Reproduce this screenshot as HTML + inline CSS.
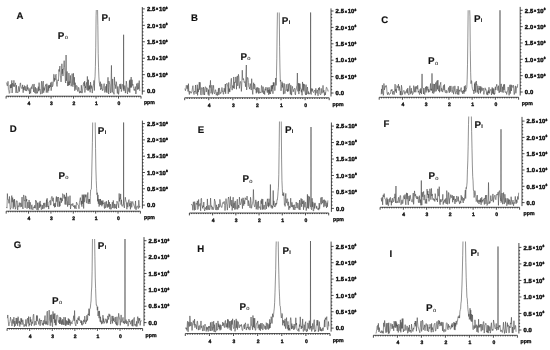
<!DOCTYPE html>
<html><head><meta charset="utf-8"><style>
html,body{margin:0;padding:0;background:#fff;}
svg{display:block;}
svg text{font-family:"Liberation Sans", Arial, sans-serif;}
</style></head><body>
<svg width="550" height="350" viewBox="0 0 550 350" text-rendering="geometricPrecision">
<rect width="550" height="350" fill="#fff"/>
<clipPath id="cA"><rect x="4.1" y="10" width="117.5" height="86.2"/><rect x="121.6" y="34.8" width="21.4" height="61.4"/></clipPath>
<polyline clip-path="url(#cA)" points="6.3,82.52 6.63,82.88 7.15,85.73 7.64,85.63 8,81.32 8.42,89.48 8.84,90.54 9.3,93.38 9.8,92.89 10.12,84.96 10.43,88.14 10.94,84.09 11.34,87.94 11.83,80.35 12.14,92.98 12.55,83.13 13.03,84.28 13.38,86.62 13.92,80.34 14.45,86.66 14.75,84.8 15.06,84.42 15.5,82.89 16.03,92.95 16.43,85.22 16.78,89.95 17.18,92.44 17.49,92.56 17.85,92.98 18.26,91.53 18.68,86.38 19.04,87.55 19.4,91.59 19.75,87.76 20.17,83.68 20.54,82.87 20.84,86.03 21.35,88.1 21.79,88.49 22.25,88.52 22.6,84.86 23.15,92.73 23.66,87.05 23.99,90.03 24.38,85.53 24.86,88.69 25.33,90.8 25.87,86.28 26.27,89.48 26.78,91.11 27.25,84.7 27.63,89.46 28.07,87.43 28.59,90.43 29.1,89.85 29.53,94.03 29.98,88.3 30.29,92.15 30.65,93.3 31.15,87.2 31.55,86.68 31.89,88.82 32.33,84.68 32.81,84.4 33.28,87.7 33.67,91.98 34.08,83.95 34.51,91.4 35,93.06 35.43,87.19 35.83,93.68 36.25,93.38 36.56,91.76 36.87,88.31 37.35,93.29 37.89,91.11 38.34,86.65 38.74,91.13 39.08,82.63 39.51,90.17 40.05,89.33 40.54,94.21 40.98,93.73 41.49,81.21 41.85,81.83 42.28,93.57 42.82,84.28 43.26,81.05 43.68,92.73 44.05,87.61 44.48,90.41 45.02,86.51 45.32,86.05 45.82,84.38 46.32,92.58 46.85,83.71 47.33,89.05 47.83,92.63 48.26,85.47 48.7,90.82 49.11,84.88 49.42,88.12 49.94,85.19 50.38,86.86 50.73,82.6 51.16,90.66 51.58,85.8 51.97,81.79 52.36,86.81 52.79,86.14 53.25,83.49 53.7,74.36 54.11,74.44 54.42,81.5 54.78,78.02 55.12,80.08 55.57,75.29 56.08,74.23 56.58,84.49 57.08,86.44 57.59,81.42 57.95,79.8 58.46,80.77 58.93,69.44 59.25,71.52 59.56,69.04 59.86,66.05 60.35,75.96 60.71,78.02 61.04,81.92 61.49,75.71 61.88,63.77 62.2,73.73 62.54,69 62.97,76.05 63.31,70.55 63.68,67.29 64.16,60.67 64.57,67.47 64.95,71.64 65.37,81.32 65.68,83.03 66.07,55 66.48,80.77 66.82,74.96 67.15,71.48 67.68,86.02 68.1,81.71 68.46,85.48 68.91,73.06 69.41,85.15 69.72,81.54 70.02,82.72 70.36,75.43 70.84,84.11 71.18,86.24 71.65,84.06 72.12,73.66 72.56,83.81 72.92,86.71 73.46,73.25 73.96,84.74 74.39,77.21 74.74,90.8 75.21,82.7 75.6,87.87 76.05,89.77 76.43,85.6 76.89,85.56 77.2,86.03 77.58,91.21 78.12,91.58 78.64,87.27 79.01,88.14 79.53,93.17 79.91,91.63 80.44,90.97 80.93,92.97 81.33,85.21 81.69,90.36 82,93.18 82.52,90.82 82.82,88.12 83.33,84.29 83.87,82.38 84.31,85.91 84.66,81.13 84.9,92.53 85.25,86.26 85.6,87.94 85.95,84.81 86.3,83.54 86.65,82.38 87,89.84 87.35,76.4 87.7,87.76 88.05,90.92 88.4,79.72 88.75,90.1 89.1,86.31 89.45,89.12 89.8,85.32 90.15,92.32 90.5,82.09 90.85,85.16 91.2,88.55 91.55,85.66 91.9,87.39 92.25,93.1 92.6,88.8 92.95,86.99 93.3,85.15 93.65,83.42 94,80.39 94.35,90.56 94.7,80.76 95.05,76.67 95.4,66.53 95.75,47.68 96.1,15.65 96.45,6 96.8,6 97.15,6 97.5,6 97.85,25.5 98.2,53.42 98.55,67.8 98.9,76.89 99.25,82.39 99.6,84.14 99.95,86.41 100.3,81.68 100.65,89.86 101,88.41 101.35,88.88 101.7,83.8 102.05,86.76 102.4,90.68 102.75,89.78 103.1,90.18 103.45,86.4 103.8,85.45 104.15,83.61 104.5,87.97 104.85,92.5 105.2,90.05 105.55,88.61 105.9,86.22 106.25,91.73 106.6,84.11 106.95,92.93 107.3,84.29 107.65,83.52 108,77.31 108.35,87.7 108.7,94.01 108.93,81.06 109.31,82.36 109.77,84.44 110.26,91.53 110.66,93.06 111.1,79.61 111.45,65.4 111.77,86.5 112.14,92.35 112.66,78.92 113.1,92.62 113.64,92.62 114.05,94.32 114.42,76.96 114.92,85.09 115.42,84.99 115.73,88.66 116.19,81.63 116.52,82.79 116.85,87.23 117.37,93.47 117.68,86.68 118.04,86.36 118.58,94.38 118.99,91.81 119.32,88.73 119.66,84.13 120.02,84.69 120.51,88.89 120.83,83.77 121.36,91.61 121.75,89.86 122.3,84.36 122.82,84.79 123.5,89.46 123.6,31.8 123.7,91.1 124.31,90.45 124.77,85.55 125.08,88.38 125.38,93.11 125.93,87.01 126.3,81.14 126.75,84.5 127.16,92.46 127.54,93.9 127.86,87.65 128.38,88.3 128.93,91.65 129.47,80.5 129.8,92.6 130.15,79.6 130.61,87.58 131.15,77.04 131.59,87.44 132.06,79.75 132.52,85.4 132.89,84.21 133.32,86.59 133.7,88.14 134.06,90.3 134.38,89.51 134.75,90.53 135.3,86.57 135.71,94 136.17,93.4 136.63,83.68 137.17,85.86 137.57,89.63 137.94,82.86 138.33,86.26 138.7,89.25 139.22,80.58 139.74,91.03" fill="none" stroke="#484848" stroke-width="0.6" stroke-linejoin="round"/>
<path d="M6.1 96.2H141M6.1 96.2v2.4M8.35 96.2v1.1M10.6 96.2v1.1M12.84 96.2v1.1M15.09 96.2v1.1M17.34 96.2v1.1M19.59 96.2v1.1M21.84 96.2v1.1M24.09 96.2v1.1M26.34 96.2v1.1M28.58 96.2v2.4M30.83 96.2v1.1M33.08 96.2v1.1M35.33 96.2v1.1M37.58 96.2v1.1M39.83 96.2v1.1M42.07 96.2v1.1M44.32 96.2v1.1M46.57 96.2v1.1M48.82 96.2v1.1M51.07 96.2v2.4M53.32 96.2v1.1M55.56 96.2v1.1M57.81 96.2v1.1M60.06 96.2v1.1M62.31 96.2v1.1M64.56 96.2v1.1M66.81 96.2v1.1M69.05 96.2v1.1M71.3 96.2v1.1M73.55 96.2v2.4M75.8 96.2v1.1M78.05 96.2v1.1M80.3 96.2v1.1M82.54 96.2v1.1M84.79 96.2v1.1M87.04 96.2v1.1M89.29 96.2v1.1M91.54 96.2v1.1M93.79 96.2v1.1M96.03 96.2v2.4M98.28 96.2v1.1M100.53 96.2v1.1M102.78 96.2v1.1M105.03 96.2v1.1M107.28 96.2v1.1M109.52 96.2v1.1M111.77 96.2v1.1M114.02 96.2v1.1M116.27 96.2v1.1M118.52 96.2v2.4M120.77 96.2v1.1M123.01 96.2v1.1M125.26 96.2v1.1M127.51 96.2v1.1M129.76 96.2v1.1M132.01 96.2v1.1M134.25 96.2v1.1M136.5 96.2v1.1M138.75 96.2v1.1M141 96.2v2.4M142.3 7V94.6M142.3 91.1h2.5M142.3 87.81h1.2M142.3 84.52h1.2M142.3 81.24h1.2M142.3 77.95h1.2M142.3 74.66h2.5M142.3 71.37h1.2M142.3 68.08h1.2M142.3 64.8h1.2M142.3 61.51h1.2M142.3 58.22h2.5M142.3 54.93h1.2M142.3 51.64h1.2M142.3 48.36h1.2M142.3 45.07h1.2M142.3 41.78h2.5M142.3 38.49h1.2M142.3 35.2h1.2M142.3 31.92h1.2M142.3 28.63h1.2M142.3 25.34h2.5M142.3 22.05h1.2M142.3 18.76h1.2M142.3 15.48h1.2M142.3 12.19h1.2M142.3 8.9h2.5" stroke="#1a1a1a" stroke-width="0.8" fill="none"/>
<g font-size="5" font-weight="bold" text-anchor="middle" fill="#111" stroke="#111" stroke-width="0.35"><text x="28.98" y="105.3">4</text><text x="51.47" y="105.3">3</text><text x="73.95" y="105.3">2</text><text x="96.43" y="105.3">1</text><text x="118.92" y="105.3">0</text></g>
<text x="143.9" y="104.3" font-size="5.2" font-weight="bold" fill="#111" stroke="#111" stroke-width="0.3">ppm</text>
<g font-size="5.9" letter-spacing="0.1" font-weight="bold" fill="#111" stroke="#111" stroke-width="0.42"><text x="146.9" y="93.3">0.0</text><text x="146.9" y="76.86">0.5<tspan font-size="3.8" dx="0.7" dy="-0.7">&#215;</tspan><tspan dx="0.6" dy="0.7">10</tspan><tspan font-size="3.2" dy="-2.3">8</tspan></text><text x="146.9" y="60.42">1.0<tspan font-size="3.8" dx="0.7" dy="-0.7">&#215;</tspan><tspan dx="0.6" dy="0.7">10</tspan><tspan font-size="3.2" dy="-2.3">8</tspan></text><text x="146.9" y="43.98">1.5<tspan font-size="3.8" dx="0.7" dy="-0.7">&#215;</tspan><tspan dx="0.6" dy="0.7">10</tspan><tspan font-size="3.2" dy="-2.3">8</tspan></text><text x="146.9" y="27.54">2.0<tspan font-size="3.8" dx="0.7" dy="-0.7">&#215;</tspan><tspan dx="0.6" dy="0.7">10</tspan><tspan font-size="3.2" dy="-2.3">8</tspan></text><text x="146.9" y="11.1">2.5<tspan font-size="3.8" dx="0.7" dy="-0.7">&#215;</tspan><tspan dx="0.6" dy="0.7">10</tspan><tspan font-size="3.2" dy="-2.3">8</tspan></text></g>
<text x="16.5" y="18.8" font-size="9.6" font-weight="bold" fill="#111" stroke="#111" stroke-width="0.15">A</text>
<text x="101.6" y="21.3" font-size="9.8" font-weight="bold" fill="#111" stroke="#111" stroke-width="0.12">P<tspan font-size="5.5" dx="0.3">i</tspan></text>
<text x="57.8" y="38.5" font-size="9.8" font-weight="bold" fill="#111" stroke="#111" stroke-width="0.12">P<tspan font-size="5.8" font-weight="normal" stroke-width="0.05" dx="0.4" dy="0.5">o</tspan></text>
<clipPath id="cB"><rect x="182.7" y="12.4" width="125.9" height="85.4"/><rect x="308.6" y="12.4" width="22.6" height="85.4"/></clipPath>
<polyline clip-path="url(#cB)" points="184.9,88.51 185.44,90.7 185.98,88.47 186.29,85.31 186.61,86.2 187.12,88.77 187.6,85.32 188.07,91.49 188.45,83.68 188.9,91.99 189.35,94.51 189.8,91.02 190.14,92.22 190.54,91.81 190.94,93.32 191.42,93.06 191.97,91.22 192.51,87.68 192.95,85.69 193.36,91.63 193.72,93.46 194.03,94.52 194.34,91.8 194.76,90.99 195.14,92.23 195.53,85.02 196.05,93.82 196.48,92.82 196.93,92.82 197.28,84.74 197.59,95.36 197.97,88.65 198.31,92.07 198.73,88.54 199.28,82.12 199.75,89.78 200.1,82.31 200.62,94.08 201.12,95.09 201.6,87.79 202.13,87.41 202.62,89.28 203.12,94.75 203.51,87.05 204.05,90.42 204.59,95 204.93,88.71 205.42,86.72 205.9,87.69 206.31,92.07 206.75,87.87 207.17,88.96 207.7,89.32 208.13,94.59 208.63,89.64 209.02,95.61 209.54,85.43 210.07,87.57 210.48,80.36 210.93,93.33 211.46,91.38 211.94,85.12 212.36,94.37 212.71,91.82 213.09,88.27 213.57,85.32 213.91,92.27 214.44,93.83 214.81,92.61 215.33,89.71 215.71,89.93 216.25,95.22 216.73,93.48 217.15,92.08 217.58,95.57 218.04,93 218.49,88.3 218.87,94.93 219.22,87.92 219.65,89.73 220.18,93.78 220.64,92.7 220.96,93.19 221.46,91.55 221.94,87.54 222.47,91.47 222.82,90.89 223.31,94.29 223.62,94.15 224.08,88.2 224.45,88.9 224.81,91.85 225.33,84 225.65,93.76 226.08,83.95 226.6,83.93 226.96,83.3 227.31,84.09 227.83,87.28 228.24,93.81 228.72,82.44 229.02,91.49 229.42,88.66 229.76,92.09 230.23,88.82 230.55,86.74 231.09,79.7 231.39,78.3 231.87,87.79 232.18,90.15 232.54,85.68 233.05,85.97 233.39,88.04 233.73,76.96 234.21,88.78 234.6,81.93 234.91,82.55 235.46,82.4 235.8,76.94 236.11,79.4 236.49,89.24 236.95,76.86 237.43,75.92 237.76,85.92 238.14,82 238.45,74.34 238.86,77.11 239.36,88.42 239.84,84.32 240.37,81.54 240.86,81.68 241.37,91.42 241.85,82.91 242.27,70.21 242.62,78.2 243.09,79.83 243.47,78.54 243.79,80.28 244.2,82.5 244.72,82.21 245.05,81.63 245.5,86.74 245.9,76.86 246.33,65 246.66,89.93 247.2,80.31 247.57,77.39 248.02,77.94 248.42,82.38 248.73,86.66 249.17,86.96 249.5,89.11 249.82,87.03 250.13,83.53 250.47,83.96 250.79,88.26 251.25,89.98 251.68,78.71 252.22,89.69 252.76,94.39 253.3,86.4 253.66,82.76 254.07,89.13 254.44,84.06 254.88,84.89 255.34,89.53 255.84,89.12 256.32,93.32 256.68,87.56 257.09,92.37 257.52,87.97 257.82,87.27 258.13,89.36 258.53,93.51 258.86,88.03 259.34,90.74 259.7,93.28 260.03,92.34 260.37,92.18 260.73,92.84 261.08,92.38 261.51,85.47 261.93,86.46 262.31,92.59 262.77,89.98 263.12,86.73 263.65,93.91 264.19,90.74 264.67,94.57 265.08,88.74 265.51,90.33 265.95,87.09 266.26,88.88 266.3,88.92 266.65,89.67 267,91.31 267.35,92.69 267.7,87.55 268.05,91.52 268.4,90.13 268.75,94.82 269.1,87.25 269.45,93.61 269.8,89.57 270.15,92.99 270.5,94.02 270.85,89.31 271.2,85.58 271.55,91.35 271.9,85.44 272.25,88.85 272.6,85.1 272.95,93.73 273.3,82.42 273.65,86.16 274,82.47 274.35,86.09 274.7,90.54 275.05,90.54 275.4,83.13 275.75,78 276.1,85.38 276.45,76.68 276.8,58.76 277.15,29.96 277.5,8.4 277.85,8.4 278.2,8.4 278.55,8.4 278.9,8.4 279.25,13.28 279.6,46.59 279.95,67.91 280.3,81.34 280.65,79.99 281,90.83 281.35,86.76 281.7,84.64 282.05,81.71 282.4,87.48 282.75,83.26 283.1,85.72 283.45,94.2 283.8,88.2 284.15,83.38 284.5,84.15 284.85,93.67 285.2,91.22 285.55,90.74 285.9,89.05 286.25,84.3 286.6,85.25 286.95,90.82 287.3,89.25 287.65,91.83 288,83.87 288.35,85.15 288.7,91.2 289.05,85.65 289.4,83.34 289.75,84.9 290.1,89.69 290.33,94.4 290.84,85.2 291.21,90.72 291.57,95.14 291.99,89.23 292.36,86.33 292.76,88.63 293.23,91.83 293.76,89.33 294.21,88.96 294.72,88.24 295.04,93.66 295.43,94.85 295.98,88.98 296.31,89.17 296.72,85.85 297.04,85.25 297.36,73 297.88,91.35 298.43,83.11 298.89,94.09 299.22,83.51 299.6,90.92 299.95,83.63 300.42,88.36 300.89,88.24 301.3,92.28 301.73,89.51 302.06,95.28 302.5,81.95 303.03,89.92 303.52,83.84 303.85,91.39 304.28,84.22 304.75,86.07 305.12,92.84 305.64,94.86 306.06,84.62 306.53,94.79 306.93,91.9 307.48,87.05 307.98,93.87 308.42,91.5 308.76,94.2 309.17,93.5 309.48,94.11 309.92,93.42 310.5,91.36 310.6,9.4 310.7,93 311.22,94.52 311.64,88.44 312.04,91.27 312.52,88.8 313.05,91.9 313.53,92.58 313.95,91.32 314.49,90.8 314.87,90.08 315.36,95.22 315.82,88.35 316.31,92.69 316.82,93.29 317.18,89.86 317.64,91.15 318.04,95.74 318.5,87.95 319.05,90.21 319.51,87.37 319.81,93.9 320.22,94.34 320.7,94.91 321.22,88.36 321.69,93.28 322.19,93.2 322.49,92.64 323.03,85.39 323.51,92.35 323.96,90.24 324.49,95.51 325.01,92.35 325.34,95 325.84,91.7 326.33,87.37 326.68,87.33 327.17,88.58 327.61,89.27 327.96,91.25 328.46,91.05" fill="none" stroke="#484848" stroke-width="0.6" stroke-linejoin="round"/>
<path d="M184.7 97.8H329.2M184.7 97.8v2.4M187.11 97.8v1.1M189.52 97.8v1.1M191.92 97.8v1.1M194.33 97.8v1.1M196.74 97.8v1.1M199.15 97.8v1.1M201.56 97.8v1.1M203.97 97.8v1.1M206.38 97.8v1.1M208.78 97.8v2.4M211.19 97.8v1.1M213.6 97.8v1.1M216.01 97.8v1.1M218.42 97.8v1.1M220.82 97.8v1.1M223.23 97.8v1.1M225.64 97.8v1.1M228.05 97.8v1.1M230.46 97.8v1.1M232.87 97.8v2.4M235.27 97.8v1.1M237.68 97.8v1.1M240.09 97.8v1.1M242.5 97.8v1.1M244.91 97.8v1.1M247.32 97.8v1.1M249.72 97.8v1.1M252.13 97.8v1.1M254.54 97.8v1.1M256.95 97.8v2.4M259.36 97.8v1.1M261.77 97.8v1.1M264.18 97.8v1.1M266.58 97.8v1.1M268.99 97.8v1.1M271.4 97.8v1.1M273.81 97.8v1.1M276.22 97.8v1.1M278.62 97.8v1.1M281.03 97.8v2.4M283.44 97.8v1.1M285.85 97.8v1.1M288.26 97.8v1.1M290.67 97.8v1.1M293.07 97.8v1.1M295.48 97.8v1.1M297.89 97.8v1.1M300.3 97.8v1.1M302.71 97.8v1.1M305.12 97.8v2.4M307.52 97.8v1.1M309.93 97.8v1.1M312.34 97.8v1.1M314.75 97.8v1.1M317.16 97.8v1.1M319.57 97.8v1.1M321.98 97.8v1.1M324.38 97.8v1.1M326.79 97.8v1.1M329.2 97.8v2.4M331 8.4V96.5M331 93h2.5M331 89.72h1.2M331 86.44h1.2M331 83.16h1.2M331 79.88h1.2M331 76.6h2.5M331 73.32h1.2M331 70.04h1.2M331 66.76h1.2M331 63.48h1.2M331 60.2h2.5M331 56.92h1.2M331 53.64h1.2M331 50.36h1.2M331 47.08h1.2M331 43.8h2.5M331 40.52h1.2M331 37.24h1.2M331 33.96h1.2M331 30.68h1.2M331 27.4h2.5M331 24.12h1.2M331 20.84h1.2M331 17.56h1.2M331 14.28h1.2M331 11h2.5" stroke="#1a1a1a" stroke-width="0.8" fill="none"/>
<g font-size="5" font-weight="bold" text-anchor="middle" fill="#111" stroke="#111" stroke-width="0.35"><text x="209.18" y="106.9">4</text><text x="233.27" y="106.9">3</text><text x="257.35" y="106.9">2</text><text x="281.43" y="106.9">1</text><text x="305.52" y="106.9">0</text></g>
<text x="332.6" y="105.9" font-size="5.2" font-weight="bold" fill="#111" stroke="#111" stroke-width="0.3">ppm</text>
<g font-size="5.9" letter-spacing="0.1" font-weight="bold" fill="#111" stroke="#111" stroke-width="0.42"><text x="335.6" y="95.2">0.0</text><text x="335.6" y="78.8">0.5<tspan font-size="3.8" dx="0.7" dy="-0.7">&#215;</tspan><tspan dx="0.6" dy="0.7">10</tspan><tspan font-size="3.2" dy="-2.3">8</tspan></text><text x="335.6" y="62.4">1.0<tspan font-size="3.8" dx="0.7" dy="-0.7">&#215;</tspan><tspan dx="0.6" dy="0.7">10</tspan><tspan font-size="3.2" dy="-2.3">8</tspan></text><text x="335.6" y="46">1.5<tspan font-size="3.8" dx="0.7" dy="-0.7">&#215;</tspan><tspan dx="0.6" dy="0.7">10</tspan><tspan font-size="3.2" dy="-2.3">8</tspan></text><text x="335.6" y="29.6">2.0<tspan font-size="3.8" dx="0.7" dy="-0.7">&#215;</tspan><tspan dx="0.6" dy="0.7">10</tspan><tspan font-size="3.2" dy="-2.3">8</tspan></text><text x="335.6" y="13.2">2.5<tspan font-size="3.8" dx="0.7" dy="-0.7">&#215;</tspan><tspan dx="0.6" dy="0.7">10</tspan><tspan font-size="3.2" dy="-2.3">8</tspan></text></g>
<text x="191" y="20.6" font-size="9.6" font-weight="bold" fill="#111" stroke="#111" stroke-width="0.15">B</text>
<text x="281.8" y="24.1" font-size="9.8" font-weight="bold" fill="#111" stroke="#111" stroke-width="0.12">P<tspan font-size="5.5" dx="0.3">i</tspan></text>
<text x="240.4" y="59.5" font-size="9.8" font-weight="bold" fill="#111" stroke="#111" stroke-width="0.12">P<tspan font-size="5.8" font-weight="normal" stroke-width="0.05" dx="0.4" dy="0.5">o</tspan></text>
<clipPath id="cC"><rect x="377.2" y="10.3" width="120.8" height="87"/><rect x="498" y="10.3" width="22.6" height="87"/></clipPath>
<polyline clip-path="url(#cC)" points="381.2,94.39 381.56,88.95 382,93.8 382.39,85.18 382.84,90.91 383.3,95.35 383.61,93.9 383.92,83.48 384.42,89.91 384.79,87.87 385.15,86.36 385.7,87.19 386.11,85.27 386.62,87.22 387.04,92.62 387.5,94.73 387.84,93.09 388.3,92.16 388.82,94.44 389.25,94.79 389.73,93.94 390.2,93.14 390.52,93.46 391.01,89.84 391.45,90.78 391.83,89.21 392.14,89.68 392.65,94.37 393.07,92.25 393.55,91.16 394.07,94.69 394.55,92.27 395.08,84.17 395.48,91.34 395.98,89.03 396.39,92.86 396.92,85.61 397.44,86.25 397.77,87.69 398.1,87.86 398.46,84.13 399,90.57 399.41,86.44 399.86,89.64 400.24,94.89 400.66,91.01 401.06,95.28 401.45,85.23 401.89,88.05 402.34,94.68 402.87,92.7 403.34,91.4 403.87,90.32 404.38,91.88 404.93,94.35 405.4,91.63 405.74,92.34 406.26,92.46 406.8,89.43 407.32,93.27 407.76,88.05 408.24,93.59 408.6,94.7 409.1,94.75 409.55,88.48 409.92,85.7 410.23,90.72 410.75,94.21 411.3,88.16 411.62,92.63 412.12,91.47 412.52,94.61 412.86,93.56 413.23,93.37 413.72,85.63 414.24,89.33 414.55,92.22 415.01,87.77 415.32,86.75 415.8,92.28 416.18,86.17 416.7,88 417.25,89.18 417.67,85.27 418.22,92.33 418.6,90.94 418.92,92 419.37,94.03 419.68,94.62 420.03,89.33 420.43,92.97 420.88,88.31 421.22,90.77 421.53,94.08 422.05,73.9 422.42,88 422.96,88.33 423.49,93.99 423.88,87.98 424.3,93.77 424.73,94.59 425.19,90.31 425.64,86.84 426.08,92.45 426.53,86.28 427.07,90.53 427.5,86.93 427.9,86.63 428.38,92.43 428.74,89.21 429.12,91.43 429.66,92.1 430.09,89.45 430.53,83.51 430.83,90.28 431.24,88.84 431.68,90.61 431.99,73.4 432.44,93.19 432.9,90.19 433.21,83.83 433.67,93.56 434.09,92.7 434.56,84 434.94,91.67 435.42,84.02 435.91,82.48 436.21,91.25 436.53,84.53 437,80.74 437.54,89.32 437.9,80.05 438.31,89.49 438.76,91.08 439.14,85.61 439.53,92.27 439.91,85.58 440.3,84.42 440.75,82.28 441.13,91.35 441.52,88.25 442.01,88.6 442.32,91.21 442.76,92.12 443.25,86.71 443.62,85.36 443.98,90.18 444.48,84.42 444.84,91.12 445.19,92.51 445.6,92.65 446.07,89.99 446.4,90.88 446.78,93.17 447.16,92.33 447.67,91.52 448.08,90.74 448.59,87.53 448.93,90.81 449.32,92.88 449.78,85.94 450.3,91.78 450.72,86.15 451.07,85.91 451.4,89.35 451.83,91.26 452.18,92.58 452.68,89.31 453.19,86.39 453.54,94.19 453.91,92.17 454.41,91.06 454.87,85.85 455.37,91.42 455.76,94.16 456.09,93.59 456.46,91.01 456.96,91.14 457,88.92 457.35,92.3 457.7,94.46 458.05,86.13 458.4,86.95 458.75,94.69 459.1,90.67 459.45,89.85 459.8,91.28 460.15,91.58 460.5,89.4 460.85,88.81 461.2,87.58 461.55,91.11 461.9,92.37 462.25,91.04 462.6,93.82 462.95,92.84 463.3,90 463.65,91.76 464,93.71 464.35,86.3 464.7,92.11 465.05,86.53 465.4,85.46 465.75,91.26 466.1,89.45 466.45,89.15 466.8,87.23 467.15,79.71 467.5,64.79 467.85,37.94 468.2,6.3 468.55,6.3 468.9,6.3 469.25,6.3 469.6,6.3 469.95,16.76 470.3,50.3 470.65,72.27 471,83.7 471.35,80.56 471.7,81.01 472.05,86.39 472.4,88.74 472.75,89.85 473.1,90.64 473.45,89.96 473.8,93.88 474.15,93.21 474.5,83.63 474.85,90.98 475.2,82.19 475.55,92.51 475.9,92.22 476.25,80.97 476.6,85.05 476.95,84.67 477.3,92.52 477.65,89.37 478,85.79 478.35,93.86 478.7,93.05 479.05,88.23 479.4,89.86 479.75,86.15 480.1,87.79 480.45,93.33 480.8,86.37 481.04,91.6 481.54,89.27 481.84,87.46 482.3,90.52 482.82,90.21 483.13,88 483.5,91.33 483.86,94.42 484.3,91.59 484.7,91.39 485.12,87.81 485.61,89.94 485.91,89.8 486.23,89.53 486.56,94 486.89,94.58 487.21,91.6 487.75,95.1 488.27,90.42 488.59,93.1 489.01,87.26 489.39,93.4 489.77,91.13 490.16,90.66 490.62,89.58 491.07,89.16 491.46,94.96 491.8,93.25 492.19,87.41 492.52,93.41 492.96,88.51 493.44,94 493.83,88.59 494.15,94.8 494.5,93.29 494.89,93.83 495.34,86.82 495.84,90.05 496.23,86.85 496.73,84.27 497.19,86.8 497.59,88.1 497.99,90.64 498.41,85.66 498.89,92.44 499.29,92.94 499.9,90.37 500,7.3 500.1,92 500.98,83.96 501.45,84.07 501.77,92.13 502.17,91.54 502.58,86.79 503.1,92.72 503.63,84.47 504.03,89.98 504.55,84.24 505.05,92.4 505.42,92.15 505.83,92.55 506.16,91.66 506.67,94.43 507.13,92.14 507.65,91.07 508.15,86.95 508.62,90.08 509.1,95.27 509.54,91.01 509.87,84.83 510.32,93.63 510.62,87.04 510.95,84.68 511.45,90.94 511.76,85.21 512.08,86.88 512.4,86.92 512.93,87.45 513.27,85.15 513.58,86.64 514.09,94.63 514.42,94.32 514.93,90.02 515.4,85.85 515.9,93.29 516.44,87.92 516.89,86.64 517.39,87.43 517.7,84.11" fill="none" stroke="#484848" stroke-width="0.6" stroke-linejoin="round"/>
<path d="M379.2 97.3H518.6M379.2 97.3v2.4M381.52 97.3v1.1M383.85 97.3v1.1M386.17 97.3v1.1M388.49 97.3v1.1M390.82 97.3v1.1M393.14 97.3v1.1M395.46 97.3v1.1M397.79 97.3v1.1M400.11 97.3v1.1M402.43 97.3v2.4M404.76 97.3v1.1M407.08 97.3v1.1M409.4 97.3v1.1M411.73 97.3v1.1M414.05 97.3v1.1M416.37 97.3v1.1M418.7 97.3v1.1M421.02 97.3v1.1M423.34 97.3v1.1M425.67 97.3v2.4M427.99 97.3v1.1M430.31 97.3v1.1M432.64 97.3v1.1M434.96 97.3v1.1M437.28 97.3v1.1M439.61 97.3v1.1M441.93 97.3v1.1M444.25 97.3v1.1M446.58 97.3v1.1M448.9 97.3v2.4M451.22 97.3v1.1M453.55 97.3v1.1M455.87 97.3v1.1M458.19 97.3v1.1M460.52 97.3v1.1M462.84 97.3v1.1M465.16 97.3v1.1M467.49 97.3v1.1M469.81 97.3v1.1M472.13 97.3v2.4M474.46 97.3v1.1M476.78 97.3v1.1M479.1 97.3v1.1M481.43 97.3v1.1M483.75 97.3v1.1M486.07 97.3v1.1M488.4 97.3v1.1M490.72 97.3v1.1M493.04 97.3v1.1M495.37 97.3v2.4M497.69 97.3v1.1M500.01 97.3v1.1M502.34 97.3v1.1M504.66 97.3v1.1M506.98 97.3v1.1M509.31 97.3v1.1M511.63 97.3v1.1M513.95 97.3v1.1M516.28 97.3v1.1M518.6 97.3v2.4M520.2 6.9V95.5M520.2 92h2.5M520.2 88.73h1.2M520.2 85.46h1.2M520.2 82.2h1.2M520.2 78.93h1.2M520.2 75.66h2.5M520.2 72.39h1.2M520.2 69.12h1.2M520.2 65.86h1.2M520.2 62.59h1.2M520.2 59.32h2.5M520.2 56.05h1.2M520.2 52.78h1.2M520.2 49.52h1.2M520.2 46.25h1.2M520.2 42.98h2.5M520.2 39.71h1.2M520.2 36.44h1.2M520.2 33.18h1.2M520.2 29.91h1.2M520.2 26.64h2.5M520.2 23.37h1.2M520.2 20.1h1.2M520.2 16.84h1.2M520.2 13.57h1.2M520.2 10.3h2.5" stroke="#1a1a1a" stroke-width="0.8" fill="none"/>
<g font-size="5" font-weight="bold" text-anchor="middle" fill="#111" stroke="#111" stroke-width="0.35"><text x="402.83" y="106.4">4</text><text x="426.07" y="106.4">3</text><text x="449.3" y="106.4">2</text><text x="472.53" y="106.4">1</text><text x="495.77" y="106.4">0</text></g>
<text x="521.8" y="105.4" font-size="5.2" font-weight="bold" fill="#111" stroke="#111" stroke-width="0.3">ppm</text>
<g font-size="5.9" letter-spacing="0.1" font-weight="bold" fill="#111" stroke="#111" stroke-width="0.42"><text x="524.8" y="94.2">0.0</text><text x="524.8" y="77.86">0.5<tspan font-size="3.8" dx="0.7" dy="-0.7">&#215;</tspan><tspan dx="0.6" dy="0.7">10</tspan><tspan font-size="3.2" dy="-2.3">8</tspan></text><text x="524.8" y="61.52">1.0<tspan font-size="3.8" dx="0.7" dy="-0.7">&#215;</tspan><tspan dx="0.6" dy="0.7">10</tspan><tspan font-size="3.2" dy="-2.3">8</tspan></text><text x="524.8" y="45.18">1.5<tspan font-size="3.8" dx="0.7" dy="-0.7">&#215;</tspan><tspan dx="0.6" dy="0.7">10</tspan><tspan font-size="3.2" dy="-2.3">8</tspan></text><text x="524.8" y="28.84">2.0<tspan font-size="3.8" dx="0.7" dy="-0.7">&#215;</tspan><tspan dx="0.6" dy="0.7">10</tspan><tspan font-size="3.2" dy="-2.3">8</tspan></text><text x="524.8" y="12.5">2.5<tspan font-size="3.8" dx="0.7" dy="-0.7">&#215;</tspan><tspan dx="0.6" dy="0.7">10</tspan><tspan font-size="3.2" dy="-2.3">8</tspan></text></g>
<text x="381.2" y="22.6" font-size="9.6" font-weight="bold" fill="#111" stroke="#111" stroke-width="0.15">C</text>
<text x="474" y="22.4" font-size="9.8" font-weight="bold" fill="#111" stroke="#111" stroke-width="0.12">P<tspan font-size="5.5" dx="0.3">i</tspan></text>
<text x="428" y="64.1" font-size="9.8" font-weight="bold" fill="#111" stroke="#111" stroke-width="0.12">P<tspan font-size="5.8" font-weight="normal" stroke-width="0.05" dx="0.4" dy="0.5">o</tspan></text>
<clipPath id="cD"><rect x="4.2" y="122.6" width="117.4" height="88.6"/><rect x="121.6" y="122.6" width="20.8" height="88.6"/></clipPath>
<polyline clip-path="url(#cD)" points="6.3,207.59 6.66,207.39 6.98,208.14 7.38,193.58 7.72,199.29 8.04,199.86 8.44,199.64 8.97,203.35 9.47,196.43 9.96,204.99 10.32,209.39 10.75,208.11 11.12,207.69 11.46,197.84 11.79,195.59 12.14,202.22 12.67,197.55 13.18,208.71 13.68,199.58 14.18,206.81 14.53,199.12 14.91,204.9 15.37,209.25 15.85,208.08 16.36,200.75 16.88,201.14 17.2,200.99 17.66,209.93 18.12,205.81 18.55,206.56 18.89,205.06 19.31,202.61 19.64,205.49 20.17,207.2 20.69,202.86 21.12,204.71 21.5,206.7 22.02,197.09 22.47,206.85 22.99,208.99 23.5,195.16 23.93,195.12 24.33,200.52 24.78,199.99 25.19,207.8 25.53,195.86 25.91,196.19 26.41,201.31 26.72,199.07 27.03,208.66 27.49,204.72 27.86,202.1 28.29,207.96 28.71,206.29 29.09,199.97 29.64,209.18 29.99,202.07 30.4,202.77 30.75,206.78 31.2,209.43 31.57,205.54 31.96,204.81 32.45,208.7 32.83,209.81 33.27,208.34 33.8,206.8 34.12,206.84 34.44,208.04 34.79,205.19 35.28,208.3 35.74,200.03 36.1,202.13 36.48,201.56 36.82,209.76 37.24,208.7 37.55,202.71 38.02,210.28 38.55,206.84 39.09,202.44 39.57,207.79 40.11,200.95 40.42,206.51 40.79,204.41 41.33,209.65 41.82,209.03 42.23,205.05 42.76,209.06 43.22,206.26 43.72,202.93 44.09,208.5 44.44,204.97 44.85,202.84 45.19,205.41 45.58,206.32 46.12,207.36 46.51,199.68 46.81,206.77 47.12,198.27 47.46,203.41 47.96,206.97 48.35,205.98 48.72,209.08 49.05,201.91 49.59,201.75 50,200.41 50.35,200.53 50.66,205.15 50.98,203.96 51.32,197.88 51.79,196.5 52.13,196.49 52.44,200.1 52.86,201.25 53.22,197.73 53.77,206.02 54.1,203.68 54.53,207.36 55.03,202.98 55.43,207.04 55.98,198.97 56.4,196.43 56.76,201.66 57.16,197.12 57.47,206.03 57.87,206.7 58.24,197 58.76,198.19 59.27,206.77 59.69,201.55 60,206.17 60.36,197.77 60.72,199.81 61.07,197.84 61.43,202.74 61.95,198.57 62.29,201.13 62.6,193.66 63.13,194.35 63.57,195.49 64.12,198.53 64.52,194.73 65.05,204.48 65.51,196.82 66.01,204.65 66.49,192.92 66.92,200.67 67.24,201.33 67.59,206.64 68.11,196.53 68.64,205.12 69.17,204.36 69.55,204.88 70.01,195.67 70.51,208.99 70.98,204.72 71.48,203.92 71.91,205.71 72.37,205.44 72.85,203.4 73.21,206.09 73.74,207.01 74.28,205.52 74.6,208.48 75.14,205.31 75.69,208.09 76.15,208.92 76.46,202.14 76.99,203.06 77.32,203.86 77.86,204.87 78.33,205.37 78.64,206.18 78.99,208.74 79.44,202.52 79.89,200.28 80.37,197.62 80.91,202.3 81.26,204.57 81.56,200.93 81.9,206.66 82.25,194.63 82.6,203.83 82.95,203.28 83.3,195.28 83.65,208.51 84,194.36 84.35,201.72 84.7,202.15 85.05,195.43 85.4,194.76 85.75,197.26 86.1,194.67 86.45,200.99 86.8,203.14 87.15,200.51 87.5,195.62 87.85,192.48 88.2,203.92 88.55,202.78 88.9,199.09 89.25,202.03 89.6,199.1 89.95,203.96 90.3,196.67 90.65,189.99 91,189.76 91.35,189.14 91.7,175.1 92.05,159.01 92.4,142.49 92.75,118.6 93.1,118.6 93.45,118.6 93.8,118.6 94.15,118.6 94.5,118.6 94.85,118.6 95.2,121.87 95.55,148.49 95.9,169.01 96.25,180.65 96.6,188.44 96.95,194.64 97.3,192.76 97.65,201.35 98,194.89 98.35,203.78 98.7,199.14 99.05,206.59 99.4,205.27 99.75,199.11 100.1,204.92 100.45,198.99 100.8,204.81 101.15,204.66 101.5,200.65 101.85,206.25 102.2,201.44 102.55,204.58 102.9,200.34 103.25,203.8 103.6,203.34 103.95,203.14 104.3,208.09 104.65,208.6 105,201.91 105.35,207.87 105.7,207.28 105.97,205.86 106.35,201.19 106.79,206.35 107.32,207.7 107.79,204.1 108.09,206.56 108.47,200.12 108.91,207.26 109.33,201.97 109.81,209.06 110.23,206.4 110.55,204.17 110.91,209.41 111.42,207.93 111.81,208.1 112.3,202.14 112.85,208.04 113.31,200.38 113.78,206.14 114.23,208.48 114.61,203.94 115.14,207.38 115.55,208.07 116.08,204.23 116.46,208.92 116.97,201.2 117.47,202.55 117.92,203.64 118.33,205.26 118.67,207.87 119.16,193.46 119.55,201.42 120.02,197.88 120.35,198.69 120.67,193.9 121.01,204.58 121.51,199.81 121.85,206.1 122.38,206.31 122.77,205.16 123.5,203.47 123.6,119.6 123.7,205.1 124.38,207.95 124.78,202.24 125.32,197.29 125.66,199.78 126.13,201.67 126.51,202.45 126.88,209.22 127.19,202.55 127.49,206.3 128.03,207.16 128.54,200.53 129.04,199.58 129.54,206.22 130.08,203.07 130.42,209.3 130.86,201.19 131.29,201.89 131.73,207.39 132.27,202.2 132.76,201.51 133.3,203.91 133.63,204.09 134.09,206.04 134.56,206.81 135.05,208.71 135.5,200.94 136.01,209.86 136.38,208.49 136.92,206.21 137.32,206.13 137.77,206.28 138.29,208.65 138.77,200.23 139.14,203.31 139.5,207.46 139.88,205.99" fill="none" stroke="#484848" stroke-width="0.6" stroke-linejoin="round"/>
<path d="M6.2 211.2H140.4M6.2 211.2v2.4M8.44 211.2v1.1M10.67 211.2v1.1M12.91 211.2v1.1M15.15 211.2v1.1M17.38 211.2v1.1M19.62 211.2v1.1M21.86 211.2v1.1M24.09 211.2v1.1M26.33 211.2v1.1M28.57 211.2v2.4M30.8 211.2v1.1M33.04 211.2v1.1M35.28 211.2v1.1M37.51 211.2v1.1M39.75 211.2v1.1M41.99 211.2v1.1M44.22 211.2v1.1M46.46 211.2v1.1M48.7 211.2v1.1M50.93 211.2v2.4M53.17 211.2v1.1M55.41 211.2v1.1M57.64 211.2v1.1M59.88 211.2v1.1M62.12 211.2v1.1M64.35 211.2v1.1M66.59 211.2v1.1M68.83 211.2v1.1M71.06 211.2v1.1M73.3 211.2v2.4M75.54 211.2v1.1M77.77 211.2v1.1M80.01 211.2v1.1M82.25 211.2v1.1M84.48 211.2v1.1M86.72 211.2v1.1M88.96 211.2v1.1M91.19 211.2v1.1M93.43 211.2v1.1M95.67 211.2v2.4M97.9 211.2v1.1M100.14 211.2v1.1M102.38 211.2v1.1M104.61 211.2v1.1M106.85 211.2v1.1M109.09 211.2v1.1M111.32 211.2v1.1M113.56 211.2v1.1M115.8 211.2v1.1M118.03 211.2v2.4M120.27 211.2v1.1M122.51 211.2v1.1M124.74 211.2v1.1M126.98 211.2v1.1M129.22 211.2v1.1M131.45 211.2v1.1M133.69 211.2v1.1M135.93 211.2v1.1M138.16 211.2v1.1M140.4 211.2v2.4M142.4 120.6V208.6M142.4 205.1h2.5M142.4 201.84h1.2M142.4 198.58h1.2M142.4 195.32h1.2M142.4 192.06h1.2M142.4 188.8h2.5M142.4 185.54h1.2M142.4 182.28h1.2M142.4 179.02h1.2M142.4 175.76h1.2M142.4 172.5h2.5M142.4 169.24h1.2M142.4 165.98h1.2M142.4 162.72h1.2M142.4 159.46h1.2M142.4 156.2h2.5M142.4 152.94h1.2M142.4 149.68h1.2M142.4 146.42h1.2M142.4 143.16h1.2M142.4 139.9h2.5M142.4 136.64h1.2M142.4 133.38h1.2M142.4 130.12h1.2M142.4 126.86h1.2M142.4 123.6h2.5" stroke="#1a1a1a" stroke-width="0.8" fill="none"/>
<g font-size="5" font-weight="bold" text-anchor="middle" fill="#111" stroke="#111" stroke-width="0.35"><text x="28.97" y="220.3">4</text><text x="51.33" y="220.3">3</text><text x="73.7" y="220.3">2</text><text x="96.07" y="220.3">1</text><text x="118.43" y="220.3">0</text></g>
<text x="144" y="219.3" font-size="5.2" font-weight="bold" fill="#111" stroke="#111" stroke-width="0.3">ppm</text>
<g font-size="5.9" letter-spacing="0.1" font-weight="bold" fill="#111" stroke="#111" stroke-width="0.42"><text x="147" y="207.3">0.0</text><text x="147" y="191">0.5<tspan font-size="3.8" dx="0.7" dy="-0.7">&#215;</tspan><tspan dx="0.6" dy="0.7">10</tspan><tspan font-size="3.2" dy="-2.3">8</tspan></text><text x="147" y="174.7">1.0<tspan font-size="3.8" dx="0.7" dy="-0.7">&#215;</tspan><tspan dx="0.6" dy="0.7">10</tspan><tspan font-size="3.2" dy="-2.3">8</tspan></text><text x="147" y="158.4">1.5<tspan font-size="3.8" dx="0.7" dy="-0.7">&#215;</tspan><tspan dx="0.6" dy="0.7">10</tspan><tspan font-size="3.2" dy="-2.3">8</tspan></text><text x="147" y="142.1">2.0<tspan font-size="3.8" dx="0.7" dy="-0.7">&#215;</tspan><tspan dx="0.6" dy="0.7">10</tspan><tspan font-size="3.2" dy="-2.3">8</tspan></text><text x="147" y="125.8">2.5<tspan font-size="3.8" dx="0.7" dy="-0.7">&#215;</tspan><tspan dx="0.6" dy="0.7">10</tspan><tspan font-size="3.2" dy="-2.3">8</tspan></text></g>
<text x="9.8" y="132.4" font-size="9.6" font-weight="bold" fill="#111" stroke="#111" stroke-width="0.15">D</text>
<text x="97.8" y="133.5" font-size="9.8" font-weight="bold" fill="#111" stroke="#111" stroke-width="0.12">P<tspan font-size="5.5" dx="0.3">i</tspan></text>
<text x="58.4" y="178.5" font-size="9.8" font-weight="bold" fill="#111" stroke="#111" stroke-width="0.12">P<tspan font-size="5.8" font-weight="normal" stroke-width="0.05" dx="0.4" dy="0.5">o</tspan></text>
<clipPath id="cE"><rect x="187.4" y="121.4" width="121.6" height="91.6"/><rect x="309" y="127" width="21.7" height="86"/></clipPath>
<polyline clip-path="url(#cE)" points="191.4,203.99 191.86,205.03 192.34,204.93 192.84,210.22 193.38,201.8 193.86,205.99 194.39,210.35 194.7,201.61 195.11,208.8 195.65,209.76 196.11,203.04 196.64,203.35 196.97,204.61 197.38,200.83 197.75,209.52 198.18,208.59 198.62,199.48 198.93,206.26 199.28,205.3 199.65,204.35 200.18,203.49 200.67,210.78 201.01,198.82 201.51,198.25 201.85,204.95 202.3,206.42 202.63,208.36 202.93,205.7 203.45,206.99 203.8,202.03 204.16,208.83 204.7,210.98 205.22,207.4 205.59,208.69 206.13,209.46 206.57,206.14 207.04,210.1 207.39,198.93 207.92,208.75 208.4,209.62 208.94,205.24 209.46,209.98 209.84,209.29 210.23,206.9 210.57,198.09 210.9,204.23 211.22,206.73 211.6,205.72 212.05,209.6 212.35,206.84 212.82,207.48 213.2,209.79 213.58,208.7 214.08,206.61 214.5,199.07 214.88,200.69 215.3,201.59 215.78,209.85 216.09,208.21 216.64,204.82 216.94,210.14 217.43,207.79 217.94,206.87 218.25,209.84 218.74,203.95 219.14,207.3 219.58,207.12 219.88,199.4 220.19,201.96 220.54,204.8 221.08,206.98 221.43,207.13 221.92,207.55 222.45,203.53 222.98,202.38 223.37,203.51 223.76,202.67 224.19,201.4 224.68,205.53 225.01,210.55 225.5,205.32 226,198.63 226.51,203.6 226.82,204.43 227.36,210.14 227.68,206.25 228.07,199.72 228.52,197.01 229.05,200.34 229.43,207.8 229.96,204.83 230.4,196.56 230.78,204.52 231.16,204.64 231.5,206.31 231.82,200.06 232.16,210.41 232.63,205.21 233.18,197.21 233.52,208.01 233.83,203.82 234.38,202.71 234.81,209.63 235.21,200.96 235.57,208.16 236.02,209.31 236.53,208.11 236.94,201.61 237.35,199.22 237.66,209.4 238.19,205.95 238.5,205.12 238.92,207.89 239.43,197.07 239.76,201.28 240.25,204.86 240.78,204.21 241.24,202.13 241.74,198.71 242.07,202.02 242.47,208.65 242.81,197.86 243.32,198 243.7,205.71 244.11,200.4 244.66,204.05 245.17,197.69 245.72,199.36 246.13,198.77 246.55,199.65 247.04,196.07 247.45,198.56 247.83,202.98 248.23,205.94 248.57,200.57 248.96,203.09 249.51,204.46 250.05,207.92 250.5,197.22 250.93,200.34 251.31,208.34 251.63,207.81 252,205.07 252.5,203.63 253.02,200.82 253.41,189.5 253.9,203.29 254.4,206.33 254.87,207.06 255.34,204.2 255.83,199.87 256.22,209.32 256.69,206.03 257.06,201.73 257.48,206.07 257.98,209.65 258.45,200.98 258.82,207.74 259.36,207.39 259.82,206.63 260.27,208.58 260.57,209.62 261.01,200.49 261.37,203.74 261.84,198.86 262.25,209.64 262.76,199.15 263.22,209.38 263.72,206.32 264.11,205.05 264.57,207.24 265.05,209.7 265.56,201.81 265.95,204.55 266.46,208.82 266.97,202.21 267.45,198.8 267.99,206.17 268.3,202.54 268.65,207.24 269,198.74 269.35,202.25 269.7,205.68 270.05,205.56 270.4,184.5 270.75,204.23 271.1,207.52 271.45,205.4 271.8,205.5 272.15,208.61 272.5,206.2 272.85,207.43 273.2,190.5 273.55,205.39 273.9,200.84 274.25,204.44 274.6,207 274.95,206.35 275.3,206.63 275.65,203.31 276,205.32 276.35,202.94 276.7,203.79 277.05,199.48 277.4,199.75 277.75,195.98 278.1,191.42 278.45,187.2 278.8,174.56 279.15,147.4 279.5,117.4 279.85,117.4 280.2,117.4 280.55,117.4 280.9,117.4 281.25,119.81 281.6,159.92 281.95,180.66 282.3,188.78 282.65,195.27 283,194.37 283.35,195.87 283.7,192.6 284.05,196.02 284.4,204.47 284.75,203.81 285.1,206.37 285.45,197.55 285.8,193.42 286.15,203.21 286.5,202.75 286.85,199.14 287.2,198.73 287.55,199.09 287.9,205.5 288.25,201.85 288.6,209.04 288.95,209.83 289.3,208 289.65,206.11 290,208.16 290.35,204.21 290.7,198.18 291.05,205.36 291.4,206.89 291.75,202.53 292.1,202.24 292.66,207.21 293.05,205 293.39,209.66 293.83,206.66 294.28,204.74 294.81,210.01 295.36,207.2 295.81,207.72 296.2,201.97 296.72,206.25 297.02,208.23 297.35,208 297.79,202.9 298.24,205.23 298.58,205.86 299.03,209.51 299.56,200.02 299.95,210.02 300.36,205.15 300.72,202.21 301.09,198.39 301.63,206.78 302.03,199.11 302.57,203.96 303.1,201.21 303.54,209.77 303.91,200.5 304.46,204.19 304.88,207.3 305.28,202.38 305.66,202.1 306.21,210.61 306.63,207.76 307,207.97 307.42,194.34 307.75,208.19 308.21,195.86 308.62,208.59 308.99,203.31 309.49,196.66 309.99,203.55 310.3,206.64 310.9,206.75 311,124 311.1,208.4 311.63,209.72 312.13,198.25 312.49,206.85 312.86,201.87 313.2,211.03 313.74,210.63 314.12,203.37 314.57,208.47 314.99,202.78 315.45,204.55 315.9,205.99 316.39,208.45 316.71,206.16 317.2,208.54 317.58,209.42 318.01,208.69 318.4,207.93 318.77,210.15 319.2,203.09 319.62,208.76 320.01,204.28 320.5,202.3 320.94,197.58 321.25,204.33 321.62,202.61 322.03,197.06 322.56,203.21 323.08,200.3 323.52,200.08 323.82,207.14 324.32,199.67 324.72,204.52 325.17,206.24 325.64,200.67 326.1,202.44 326.52,207.88 327.05,202.68 327.45,206.78 327.84,200.42" fill="none" stroke="#484848" stroke-width="0.6" stroke-linejoin="round"/>
<path d="M189.4 213H328.7M189.4 213v2.4M191.72 213v1.1M194.04 213v1.1M196.37 213v1.1M198.69 213v1.1M201.01 213v1.1M203.33 213v1.1M205.65 213v1.1M207.97 213v1.1M210.3 213v1.1M212.62 213v2.4M214.94 213v1.1M217.26 213v1.1M219.58 213v1.1M221.9 213v1.1M224.22 213v1.1M226.55 213v1.1M228.87 213v1.1M231.19 213v1.1M233.51 213v1.1M235.83 213v2.4M238.16 213v1.1M240.48 213v1.1M242.8 213v1.1M245.12 213v1.1M247.44 213v1.1M249.76 213v1.1M252.09 213v1.1M254.41 213v1.1M256.73 213v1.1M259.05 213v2.4M261.37 213v1.1M263.69 213v1.1M266.01 213v1.1M268.34 213v1.1M270.66 213v1.1M272.98 213v1.1M275.3 213v1.1M277.62 213v1.1M279.94 213v1.1M282.27 213v2.4M284.59 213v1.1M286.91 213v1.1M289.23 213v1.1M291.55 213v1.1M293.88 213v1.1M296.2 213v1.1M298.52 213v1.1M300.84 213v1.1M303.16 213v1.1M305.48 213v2.4M307.81 213v1.1M310.13 213v1.1M312.45 213v1.1M314.77 213v1.1M317.09 213v1.1M319.41 213v1.1M321.74 213v1.1M324.06 213v1.1M326.38 213v1.1M328.7 213v2.4M331.4 122.5V211.9M331.4 208.4h2.5M331.4 205.11h1.2M331.4 201.82h1.2M331.4 198.52h1.2M331.4 195.23h1.2M331.4 191.94h2.5M331.4 188.65h1.2M331.4 185.36h1.2M331.4 182.06h1.2M331.4 178.77h1.2M331.4 175.48h2.5M331.4 172.19h1.2M331.4 168.9h1.2M331.4 165.6h1.2M331.4 162.31h1.2M331.4 159.02h2.5M331.4 155.73h1.2M331.4 152.44h1.2M331.4 149.14h1.2M331.4 145.85h1.2M331.4 142.56h2.5M331.4 139.27h1.2M331.4 135.98h1.2M331.4 132.68h1.2M331.4 129.39h1.2M331.4 126.1h2.5" stroke="#1a1a1a" stroke-width="0.8" fill="none"/>
<g font-size="5" font-weight="bold" text-anchor="middle" fill="#111" stroke="#111" stroke-width="0.35"><text x="213.02" y="222.1">4</text><text x="236.23" y="222.1">3</text><text x="259.45" y="222.1">2</text><text x="282.67" y="222.1">1</text><text x="305.88" y="222.1">0</text></g>
<text x="333" y="221.1" font-size="5.2" font-weight="bold" fill="#111" stroke="#111" stroke-width="0.3">ppm</text>
<g font-size="5.9" letter-spacing="0.1" font-weight="bold" fill="#111" stroke="#111" stroke-width="0.42"><text x="336" y="210.6">0.0</text><text x="336" y="194.14">0.5<tspan font-size="3.8" dx="0.7" dy="-0.7">&#215;</tspan><tspan dx="0.6" dy="0.7">10</tspan><tspan font-size="3.2" dy="-2.3">8</tspan></text><text x="336" y="177.68">1.0<tspan font-size="3.8" dx="0.7" dy="-0.7">&#215;</tspan><tspan dx="0.6" dy="0.7">10</tspan><tspan font-size="3.2" dy="-2.3">8</tspan></text><text x="336" y="161.22">1.5<tspan font-size="3.8" dx="0.7" dy="-0.7">&#215;</tspan><tspan dx="0.6" dy="0.7">10</tspan><tspan font-size="3.2" dy="-2.3">8</tspan></text><text x="336" y="144.76">2.0<tspan font-size="3.8" dx="0.7" dy="-0.7">&#215;</tspan><tspan dx="0.6" dy="0.7">10</tspan><tspan font-size="3.2" dy="-2.3">8</tspan></text><text x="336" y="128.3">2.5<tspan font-size="3.8" dx="0.7" dy="-0.7">&#215;</tspan><tspan dx="0.6" dy="0.7">10</tspan><tspan font-size="3.2" dy="-2.3">8</tspan></text></g>
<text x="197.8" y="132.6" font-size="9.6" font-weight="bold" fill="#111" stroke="#111" stroke-width="0.15">E</text>
<text x="285" y="132.5" font-size="9.8" font-weight="bold" fill="#111" stroke="#111" stroke-width="0.12">P<tspan font-size="5.5" dx="0.3">i</tspan></text>
<text x="242.4" y="182.1" font-size="9.8" font-weight="bold" fill="#111" stroke="#111" stroke-width="0.12">P<tspan font-size="5.8" font-weight="normal" stroke-width="0.05" dx="0.4" dy="0.5">o</tspan></text>
<clipPath id="cF"><rect x="378.1" y="116.5" width="120.9" height="90.8"/><rect x="499" y="129.2" width="22.6" height="78.1"/></clipPath>
<polyline clip-path="url(#cF)" points="381.2,198.1 381.7,201.34 382.2,197.26 382.63,204.86 382.99,195.8 383.29,194.89 383.76,197.07 384.17,193.59 384.66,197.8 385.06,199.26 385.55,199.39 385.92,204.22 386.42,204.77 386.9,197.65 387.3,204.53 387.74,199.22 388.21,205.84 388.56,205.5 389,199.72 389.5,198.6 389.86,202.19 390.36,197.39 390.84,198.82 391.35,205.29 391.73,200.74 392.05,202.91 392.55,198.25 393.06,200.17 393.47,201.82 393.79,201.23 394.14,197.36 394.6,198.11 394.97,193.81 395.51,202.8 395.96,186 396.31,202.9 396.77,202.65 397.16,201.42 397.69,202.66 398.22,199.09 398.65,197.31 399.11,202.79 399.58,199.91 400.09,195.49 400.63,195.77 400.94,204.75 401.33,204.17 401.78,200.52 402.15,199.81 402.6,203.67 402.92,203.48 403.44,196.73 403.88,195.51 404.2,196.27 404.67,199.07 405.05,194.5 405.4,200.99 405.82,204.81 406.15,198.77 406.51,192.83 407.02,199.18 407.5,193.25 407.8,201.32 408.29,204.85 408.6,199.52 408.98,196.01 409.51,201.09 409.96,195.22 410.34,195.34 410.73,198.86 411.13,199.57 411.46,201.45 412.01,201.84 412.33,202.1 412.73,198.92 413.22,193.02 413.62,204.34 414.16,197.26 414.52,190.89 415.07,196.15 415.59,194.28 416.06,197.49 416.58,198.67 416.99,196.03 417.5,198.95 418,197.18 418.43,202.4 418.85,202.73 419.32,195.67 419.73,201.66 420.05,202.87 420.53,199.6 420.9,205.3 421.32,180.5 421.82,205.13 422.16,192.17 422.47,195.61 422.8,196.79 423.25,193.44 423.64,191.48 424,200.14 424.41,195.55 424.94,194.8 425.31,203.44 425.71,201.19 426.23,199.09 426.68,203.6 427.05,189.08 427.47,194.84 427.89,191.01 428.22,197.95 428.62,194 429,201.36 429.5,193.26 429.88,188.81 430.34,191.5 430.89,199.64 431.42,188.41 431.81,196.02 432.26,193.96 432.64,198.8 433.04,199.76 433.46,198.5 433.96,200.49 434.49,199.34 434.87,201.48 435.17,193.61 435.58,195.92 435.9,199.27 436.2,199.09 436.7,200.07 437.02,198.51 437.5,201.91 437.89,188.8 438.43,195.64 438.94,196.27 439.26,186.67 439.61,202.8 440.14,204.71 440.6,199.32 441,202.09 441.5,200.42 442,199.43 442.42,200.34 442.84,194.31 443.17,204.51 443.56,201.68 443.89,202.46 444.35,201.02 444.8,199.55 445.14,202.61 445.59,199.29 445.92,198.41 446.24,204 446.71,190.62 447.12,193.21 447.65,204.37 448.1,201.45 448.58,192.47 448.91,193.34 449.42,203.64 449.74,198.67 450.19,198.6 450.72,194.58 451.25,197.55 451.77,197.34 452.19,195.09 452.66,202.24 453.16,196.24 453.49,200.04 454.03,196.04 454.55,201.05 454.96,203.92 455.46,198.91 455.87,200.89 456.24,202.14 456.72,195.97 457.03,196.91 457.53,199.43 458,201.39 458.35,196.62 458.7,201.12 459.05,201.5 459.4,202.92 459.75,204.08 460.1,200.83 460.45,201.45 460.8,203.06 461.15,195.31 461.5,197.47 461.85,200.32 462.2,196.79 462.55,198.32 462.9,201.89 463.25,202.97 463.6,198.18 463.95,199.28 464.3,200.42 464.65,196.67 465,193.81 465.35,190.05 465.7,198.52 466.05,187.58 466.4,188.55 466.75,185.77 467.1,182.05 467.45,169.79 467.8,160.91 468.15,146.36 468.5,124.49 468.85,112.5 469.2,112.5 469.55,112.5 469.9,112.5 470.25,112.5 470.6,112.5 470.95,112.5 471.3,113.39 471.65,131.35 472,148.71 472.35,164.96 472.7,176.41 473.05,180.74 473.4,190.04 473.75,191.27 474.1,197.51 474.45,195.57 474.8,190.63 475.15,191.83 475.5,194.47 475.85,196.16 476.2,201.54 476.55,200.56 476.9,198.16 477.25,195.1 477.6,202.56 477.95,200.42 478.3,199.92 478.65,202.26 479,203.97 479.35,200.44 479.7,201.58 480.05,199.61 480.4,202.23 480.75,198.22 481.1,204.75 481.45,198.24 481.8,197.27 482,202.46 482.46,200.11 482.97,201.25 483.36,198.77 483.82,199.53 484.37,204.52 484.71,198.01 485.17,198.8 485.56,195.19 485.88,203.82 486.19,196.73 486.68,195.17 487.01,205.46 487.48,204.78 487.81,201.69 488.2,199.18 488.51,182.5 488.94,203.92 489.44,201.59 489.8,203.27 490.24,202.55 490.77,195.59 491.14,199.12 491.56,200.75 492.04,201.15 492.56,198.95 492.9,193.93 493.36,202.27 493.69,199.85 494.02,196.79 494.57,196.19 494.88,195.16 495.41,199 495.9,199.69 496.37,194.94 496.85,194.15 497.31,194.95 497.68,195.02 498.09,192.19 498.45,205.33 498.96,191.85 499.45,190.62 499.95,195.22 500.31,197.33 500.9,200.97 501,126.2 501.1,202.6 501.61,200.29 502.1,193.03 502.65,204.19 503.13,200.31 503.6,192.51 504.09,203.74 504.42,204.07 504.86,194.24 505.17,196.81 505.56,202.44 505.89,198.25 506.43,201.18 506.74,205.77 507.27,204.27 507.8,198.23 508.21,203.96 508.72,199.31 509.03,204.7 509.37,203.88 509.67,199.82 509.99,201.28 510.29,201.52 510.8,204.73 511.12,196.74 511.57,201.51 511.93,202.71 512.27,204.24 512.67,201.64 513.02,200.09 513.56,205.78 513.96,202.65 514.41,203.39 514.85,201.5 515.3,196.41 515.72,201.35 516.09,203.85 516.43,199.77 516.95,202.75 517.3,200.48 517.71,196.45 518.21,199.46 518.65,192.73" fill="none" stroke="#484848" stroke-width="0.6" stroke-linejoin="round"/>
<path d="M380.1 207.3H519.6M380.1 207.3v2.4M382.43 207.3v1.1M384.75 207.3v1.1M387.08 207.3v1.1M389.4 207.3v1.1M391.73 207.3v1.1M394.05 207.3v1.1M396.38 207.3v1.1M398.7 207.3v1.1M401.03 207.3v1.1M403.35 207.3v2.4M405.68 207.3v1.1M408 207.3v1.1M410.33 207.3v1.1M412.65 207.3v1.1M414.98 207.3v1.1M417.3 207.3v1.1M419.62 207.3v1.1M421.95 207.3v1.1M424.28 207.3v1.1M426.6 207.3v2.4M428.93 207.3v1.1M431.25 207.3v1.1M433.58 207.3v1.1M435.9 207.3v1.1M438.23 207.3v1.1M440.55 207.3v1.1M442.88 207.3v1.1M445.2 207.3v1.1M447.53 207.3v1.1M449.85 207.3v2.4M452.18 207.3v1.1M454.5 207.3v1.1M456.83 207.3v1.1M459.15 207.3v1.1M461.48 207.3v1.1M463.8 207.3v1.1M466.12 207.3v1.1M468.45 207.3v1.1M470.78 207.3v1.1M473.1 207.3v2.4M475.43 207.3v1.1M477.75 207.3v1.1M480.08 207.3v1.1M482.4 207.3v1.1M484.73 207.3v1.1M487.05 207.3v1.1M489.38 207.3v1.1M491.7 207.3v1.1M494.03 207.3v1.1M496.35 207.3v2.4M498.68 207.3v1.1M501 207.3v1.1M503.33 207.3v1.1M505.65 207.3v1.1M507.98 207.3v1.1M510.3 207.3v1.1M512.62 207.3v1.1M514.95 207.3v1.1M517.28 207.3v1.1M519.6 207.3v2.4M522 116.9V206.1M522 202.6h2.5M522 199.34h1.2M522 196.08h1.2M522 192.82h1.2M522 189.56h1.2M522 186.3h2.5M522 183.04h1.2M522 179.78h1.2M522 176.52h1.2M522 173.26h1.2M522 170h2.5M522 166.74h1.2M522 163.48h1.2M522 160.22h1.2M522 156.96h1.2M522 153.7h2.5M522 150.44h1.2M522 147.18h1.2M522 143.92h1.2M522 140.66h1.2M522 137.4h2.5M522 134.14h1.2M522 130.88h1.2M522 127.62h1.2M522 124.36h1.2M522 121.1h2.5" stroke="#1a1a1a" stroke-width="0.8" fill="none"/>
<g font-size="5" font-weight="bold" text-anchor="middle" fill="#111" stroke="#111" stroke-width="0.35"><text x="403.75" y="216.4">4</text><text x="427" y="216.4">3</text><text x="450.25" y="216.4">2</text><text x="473.5" y="216.4">1</text><text x="496.75" y="216.4">0</text></g>
<text x="523.6" y="215.4" font-size="5.2" font-weight="bold" fill="#111" stroke="#111" stroke-width="0.3">ppm</text>
<g font-size="5.9" letter-spacing="0.1" font-weight="bold" fill="#111" stroke="#111" stroke-width="0.42"><text x="526.6" y="204.8">0.0</text><text x="526.6" y="188.5">0.5<tspan font-size="3.8" dx="0.7" dy="-0.7">&#215;</tspan><tspan dx="0.6" dy="0.7">10</tspan><tspan font-size="3.2" dy="-2.3">8</tspan></text><text x="526.6" y="172.2">1.0<tspan font-size="3.8" dx="0.7" dy="-0.7">&#215;</tspan><tspan dx="0.6" dy="0.7">10</tspan><tspan font-size="3.2" dy="-2.3">8</tspan></text><text x="526.6" y="155.9">1.5<tspan font-size="3.8" dx="0.7" dy="-0.7">&#215;</tspan><tspan dx="0.6" dy="0.7">10</tspan><tspan font-size="3.2" dy="-2.3">8</tspan></text><text x="526.6" y="139.6">2.0<tspan font-size="3.8" dx="0.7" dy="-0.7">&#215;</tspan><tspan dx="0.6" dy="0.7">10</tspan><tspan font-size="3.2" dy="-2.3">8</tspan></text><text x="526.6" y="123.3">2.5<tspan font-size="3.8" dx="0.7" dy="-0.7">&#215;</tspan><tspan dx="0.6" dy="0.7">10</tspan><tspan font-size="3.2" dy="-2.3">8</tspan></text></g>
<text x="383.4" y="126.6" font-size="9.6" font-weight="bold" fill="#111" stroke="#111" stroke-width="0.15">F</text>
<text x="474.5" y="127.6" font-size="9.8" font-weight="bold" fill="#111" stroke="#111" stroke-width="0.12">P<tspan font-size="5.5" dx="0.3">i</tspan></text>
<text x="428.4" y="179.1" font-size="9.8" font-weight="bold" fill="#111" stroke="#111" stroke-width="0.12">P<tspan font-size="5.8" font-weight="normal" stroke-width="0.05" dx="0.4" dy="0.5">o</tspan></text>
<clipPath id="cG"><rect x="5.1" y="239" width="117.9" height="89.5"/><rect x="123" y="239" width="21.6" height="89.5"/></clipPath>
<polyline clip-path="url(#cG)" points="7.4,318.19 7.78,314.96 8.12,319.29 8.58,324.23 8.9,325.9 9.33,323.35 9.72,323 10.04,321.34 10.47,317.14 10.78,318.79 11.18,320.7 11.5,321.67 11.82,326.05 12.23,325.37 12.74,319.38 13.07,323.19 13.42,323.55 13.88,317.15 14.42,326.74 14.86,321.01 15.26,325.83 15.81,324.14 16.12,317.94 16.63,323.77 17,317.96 17.34,319.36 17.67,325.8 18.05,316.68 18.55,318.82 18.9,323.17 19.34,320.94 19.8,326.54 20.19,321.93 20.63,324.3 20.95,318.21 21.26,321.99 21.61,318.57 22.08,324.67 22.49,320.84 22.87,319.82 23.31,322.44 23.73,324.96 24.1,326.73 24.6,324.5 25.08,325.28 25.44,325.74 25.88,319.42 26.31,326.5 26.83,323.11 27.31,318.83 27.69,318.12 28.23,323.5 28.56,316.55 28.96,326.3 29.45,323.7 29.79,325.03 30.21,316.87 30.52,321.66 30.99,319.47 31.48,325.8 31.93,321.79 32.44,323.57 32.82,320.4 33.3,314.75 33.75,314.17 34.19,325.61 34.6,323.97 35.11,321.09 35.65,322.39 36.07,325.07 36.53,315.56 36.85,321.06 37.33,315.53 37.79,321.2 38.34,321.4 38.84,324.41 39.21,321.1 39.61,318.59 40.08,325.82 40.38,323.89 40.8,320.07 41.14,320.98 41.47,320.45 41.78,320.42 42.27,324.48 42.61,325.13 42.97,322.99 43.37,325.48 43.88,320.31 44.2,323.9 44.62,318.2 45.05,315.56 45.58,324.39 46.08,321.28 46.6,324.36 46.97,312.4 47.37,311.16 47.76,325.13 48.28,321.36 48.82,320.57 49.16,310.14 49.5,319.73 49.86,320.71 50.22,325.76 50.64,314.89 51.09,322.52 51.45,321.75 51.75,314.5 52.16,325.45 52.55,326.66 52.99,311.38 53.53,319.01 54,313.86 54.43,322.87 54.89,313.4 55.35,325.19 55.67,319.6 56.19,325.26 56.69,315.36 57.21,315.12 57.71,315.31 58.1,319.92 58.5,322.5 58.83,321.85 59.29,319.92 59.6,323.99 59.92,317.05 60.27,323.83 60.61,317.59 61,318.06 61.31,321.15 61.61,324.66 61.95,320.45 62.28,324.53 62.67,319.21 62.97,321.1 63.49,324.87 63.94,317.12 64.28,323.18 64.64,323.73 65.03,325.13 65.42,317.31 65.75,325.98 66.27,320.3 66.81,324.67 67.23,321.03 67.65,323.58 67.97,324.71 68.3,318.44 68.68,324.89 69.05,318.92 69.56,323.13 69.9,320.15 70.2,325.67 70.74,321.91 71.17,321.54 71.51,322.48 71.95,324.07 72.25,321.68 72.68,321.37 73.23,319.68 73.75,315.71 74.22,320.76 74.58,310.52 74.98,323.13 75.32,324.27 75.81,325.94 76.24,322.19 76.74,319.88 77.12,322.88 77.48,323.78 77.98,317.73 78.53,320.15 79.04,316.25 79.54,320.41 80.05,319.93 80.53,321.52 80.89,323.01 81.32,320.53 81.6,324.71 81.95,320.96 82.3,325.32 82.65,324.76 83,323.58 83.35,324 83.7,319.82 84.05,321.85 84.4,322.11 84.75,316.13 85.1,320.35 85.45,323.96 85.8,323.21 86.15,319.84 86.5,321.76 86.85,315.29 87.2,318.64 87.55,320.45 87.9,313.86 88.25,314 88.6,315 88.95,308.7 89.3,315.9 89.65,309.52 90,308.75 90.35,307.88 90.7,303.72 91.05,301.02 91.4,292.07 91.75,287.01 92.1,271.61 92.45,239.84 92.8,235 93.15,235 93.5,235 93.85,235 94.2,235 94.55,235 94.9,256.37 95.25,277.95 95.6,288.42 95.95,298.25 96.3,305.17 96.65,304.98 97,306.6 97.35,310.26 97.7,306.76 98.05,316.03 98.4,311.23 98.75,312.02 99.1,318.19 99.45,310.91 99.8,317.4 100.15,321.69 100.5,316.75 100.85,322.25 101.2,320.65 101.55,324.18 101.9,321.78 102.25,323.29 102.6,323.3 102.95,315.17 103.3,321.96 103.65,318.52 104,323.55 104.35,321.87 104.7,322.08 105.05,322.22 105.4,319.67 105.83,318.78 106.33,320.22 106.69,323.41 107.05,319.43 107.42,322.66 107.78,315.86 108.23,317.67 108.59,319.5 109,313.79 109.33,316.53 109.86,314.62 110.25,316.25 110.66,324.07 111.11,320.79 111.63,320.68 112.04,315.89 112.57,323.43 112.99,315.98 113.43,320.81 113.86,318.32 114.16,320.93 114.57,321.71 114.92,322.14 115.22,316.95 115.72,323.63 116.06,322.27 116.48,325.18 116.96,316.73 117.4,325.35 117.78,325.11 118.21,321.71 118.65,313.33 119.15,316.93 119.47,317.92 119.91,320.53 120.28,325.39 120.65,320.41 121.14,314.92 121.57,321.97 122.01,322.45 122.5,320.12 123.02,317.36 123.43,322.93 123.89,321.16 124.31,324.08 124.9,320.96 125,236 125.1,322.6 125.63,323.03 126.06,319.63 126.48,323.86 127.02,321.1 127.49,322.13 128.01,326.23 128.55,325 128.91,319.09 129.35,321.9 129.89,320.93 130.4,322.84 130.73,324.28 131.06,322.84 131.47,320.49 131.79,321.45 132.15,326.05 132.47,319.58 132.94,326.32 133.43,320.21 133.96,318.19 134.29,317.45 134.77,325.41 135.24,324.16 135.57,325.85 136.1,326.47 136.64,321.3 136.99,326.42 137.53,316.93 137.93,316.54 138.35,323.34 138.9,318.06 139.41,320.55 139.75,318.35 140.16,325.37 140.58,321.2 140.97,321.49 141.32,320.33" fill="none" stroke="#484848" stroke-width="0.6" stroke-linejoin="round"/>
<path d="M7.1 328.5H142.6M7.1 328.5v2.4M9.36 328.5v1.1M11.62 328.5v1.1M13.87 328.5v1.1M16.13 328.5v1.1M18.39 328.5v1.1M20.65 328.5v1.1M22.91 328.5v1.1M25.17 328.5v1.1M27.43 328.5v1.1M29.68 328.5v2.4M31.94 328.5v1.1M34.2 328.5v1.1M36.46 328.5v1.1M38.72 328.5v1.1M40.98 328.5v1.1M43.23 328.5v1.1M45.49 328.5v1.1M47.75 328.5v1.1M50.01 328.5v1.1M52.27 328.5v2.4M54.52 328.5v1.1M56.78 328.5v1.1M59.04 328.5v1.1M61.3 328.5v1.1M63.56 328.5v1.1M65.82 328.5v1.1M68.08 328.5v1.1M70.33 328.5v1.1M72.59 328.5v1.1M74.85 328.5v2.4M77.11 328.5v1.1M79.37 328.5v1.1M81.62 328.5v1.1M83.88 328.5v1.1M86.14 328.5v1.1M88.4 328.5v1.1M90.66 328.5v1.1M92.92 328.5v1.1M95.17 328.5v1.1M97.43 328.5v2.4M99.69 328.5v1.1M101.95 328.5v1.1M104.21 328.5v1.1M106.47 328.5v1.1M108.72 328.5v1.1M110.98 328.5v1.1M113.24 328.5v1.1M115.5 328.5v1.1M117.76 328.5v1.1M120.02 328.5v2.4M122.28 328.5v1.1M124.53 328.5v1.1M126.79 328.5v1.1M129.05 328.5v1.1M131.31 328.5v1.1M133.57 328.5v1.1M135.82 328.5v1.1M138.08 328.5v1.1M140.34 328.5v1.1M142.6 328.5v2.4M144 237.1V326.1M144 322.6h2.5M144 319.32h1.2M144 316.05h1.2M144 312.77h1.2M144 309.5h1.2M144 306.22h2.5M144 302.94h1.2M144 299.67h1.2M144 296.39h1.2M144 293.12h1.2M144 289.84h2.5M144 286.56h1.2M144 283.29h1.2M144 280.01h1.2M144 276.74h1.2M144 273.46h2.5M144 270.18h1.2M144 266.91h1.2M144 263.63h1.2M144 260.36h1.2M144 257.08h2.5M144 253.8h1.2M144 250.53h1.2M144 247.25h1.2M144 243.98h1.2M144 240.7h2.5" stroke="#1a1a1a" stroke-width="0.8" fill="none"/>
<g font-size="5" font-weight="bold" text-anchor="middle" fill="#111" stroke="#111" stroke-width="0.35"><text x="30.08" y="337.6">4</text><text x="52.67" y="337.6">3</text><text x="75.25" y="337.6">2</text><text x="97.83" y="337.6">1</text><text x="120.42" y="337.6">0</text></g>
<text x="145.6" y="336.6" font-size="5.2" font-weight="bold" fill="#111" stroke="#111" stroke-width="0.3">ppm</text>
<g font-size="5.9" letter-spacing="0.1" font-weight="bold" fill="#111" stroke="#111" stroke-width="0.42"><text x="148.6" y="324.8">0.0</text><text x="148.6" y="308.42">0.5<tspan font-size="3.8" dx="0.7" dy="-0.7">&#215;</tspan><tspan dx="0.6" dy="0.7">10</tspan><tspan font-size="3.2" dy="-2.3">8</tspan></text><text x="148.6" y="292.04">1.0<tspan font-size="3.8" dx="0.7" dy="-0.7">&#215;</tspan><tspan dx="0.6" dy="0.7">10</tspan><tspan font-size="3.2" dy="-2.3">8</tspan></text><text x="148.6" y="275.66">1.5<tspan font-size="3.8" dx="0.7" dy="-0.7">&#215;</tspan><tspan dx="0.6" dy="0.7">10</tspan><tspan font-size="3.2" dy="-2.3">8</tspan></text><text x="148.6" y="259.28">2.0<tspan font-size="3.8" dx="0.7" dy="-0.7">&#215;</tspan><tspan dx="0.6" dy="0.7">10</tspan><tspan font-size="3.2" dy="-2.3">8</tspan></text><text x="148.6" y="242.9">2.5<tspan font-size="3.8" dx="0.7" dy="-0.7">&#215;</tspan><tspan dx="0.6" dy="0.7">10</tspan><tspan font-size="3.2" dy="-2.3">8</tspan></text></g>
<text x="13.8" y="248.4" font-size="9.6" font-weight="bold" fill="#111" stroke="#111" stroke-width="0.15">G</text>
<text x="97.8" y="248.5" font-size="9.8" font-weight="bold" fill="#111" stroke="#111" stroke-width="0.12">P<tspan font-size="5.5" dx="0.3">i</tspan></text>
<text x="52.1" y="303.5" font-size="9.8" font-weight="bold" fill="#111" stroke="#111" stroke-width="0.12">P<tspan font-size="5.8" font-weight="normal" stroke-width="0.05" dx="0.4" dy="0.5">o</tspan></text>
<clipPath id="cH"><rect x="183.3" y="241.4" width="125.2" height="92.2"/><rect x="308.5" y="241" width="23.5" height="92.6"/></clipPath>
<polyline clip-path="url(#cH)" points="185.7,327.47 186.06,329.08 186.6,327.81 186.93,330.41 187.41,322.52 187.73,321.17 188.09,331.79 188.64,322.31 188.99,322.05 189.45,326.49 189.87,315.91 190.28,320.89 190.7,326.1 191.05,322.09 191.56,322.72 191.88,330.47 192.24,330.23 192.54,323.5 192.91,322.93 193.31,320.61 193.84,323.19 194.23,325.31 194.56,319.07 194.93,327.64 195.47,324.43 195.79,324.54 196.24,325.51 196.64,329.14 197.1,321.29 197.49,321.19 197.96,326.02 198.39,330.17 198.85,325.88 199.37,325.38 199.82,329.76 200.15,328.93 200.47,326.85 201.01,320.93 201.43,327.63 201.78,326.21 202.31,329.1 202.76,331.09 203.24,325.36 203.76,326.99 204.13,330.72 204.52,326.87 205.04,324.11 205.38,325.97 205.87,326.46 206.19,331.41 206.66,327.14 207.14,329.6 207.68,327.29 208.19,331.5 208.61,326.32 208.96,327.7 209.3,326.12 209.73,328.79 210.16,330.92 210.48,322.41 211,330.97 211.43,327.99 211.91,321.89 212.26,321.98 212.62,330.46 212.92,327.54 213.31,328.19 213.68,321.2 214.08,331.75 214.48,324.67 214.99,331.99 215.51,332.04 215.85,330.66 216.25,322.94 216.59,330.37 217.06,329.59 217.6,330.04 217.95,320.92 218.44,326.89 218.82,323.74 219.12,328.74 219.61,325.43 220,330.35 220.34,324.62 220.75,329.53 221.11,329.58 221.51,326.57 221.92,325.34 222.33,325.83 222.77,322.02 223.15,325.61 223.47,324.85 223.79,323.11 224.12,327.22 224.55,327.62 224.94,321.91 225.44,320.45 225.87,327.26 226.34,327.26 226.89,323.39 227.2,326.98 227.51,319.35 227.84,328.56 228.24,319.52 228.68,322.92 229.17,327.62 229.56,321.3 230.1,329.82 230.4,326.56 230.91,321.01 231.26,330.72 231.78,320.25 232.09,324.54 232.63,318.8 233.12,326.8 233.67,328.63 234.11,327.41 234.46,320.3 235,331.39 235.41,328.67 235.73,323.72 236.18,318.89 236.61,327.8 237.02,320.82 237.36,329.56 237.69,325.56 238.14,321.7 238.55,324.4 238.88,327.24 239.29,327.97 239.77,324.67 240.25,324.98 240.67,326.26 241.07,326.31 241.46,324.39 241.82,327.83 242.17,330.11 242.58,330.56 242.9,329.18 243.39,325.89 243.86,326.02 244.32,324.27 244.62,329.01 245.01,324.65 245.42,322.8 245.74,324.64 246.29,330.05 246.77,327.46 247.2,327.33 247.68,328.06 248.03,323.79 248.38,329.39 248.82,327.75 249.3,326.77 249.76,330.05 250.07,330.04 250.52,328.57 251.05,317.04 251.53,325.44 252.06,325.65 252.61,329.75 252.96,315.5 253.34,327.04 253.78,318.12 254.32,328.18 254.71,318.19 255.25,330.34 255.76,330.1 256.19,325 256.65,323.26 257.18,323.17 257.68,320.92 258.05,328.35 258.57,326.18 258.91,324.54 259.31,329.89 259.85,324.49 260.36,330.73 260.74,323.16 261.11,327.53 261.56,328.64 262.07,323.06 262.54,329.75 263.08,329.88 263.56,324.42 264.07,325.32 264.52,326.35 264.91,328.82 265.2,325.97 265.55,327.82 265.9,329.89 266.25,322.66 266.6,323.7 266.95,328.91 267.3,328.36 267.65,323.29 268,324.24 268.35,329.62 268.7,328.23 269.05,324.37 269.4,328.46 269.75,319.35 270.1,327.97 270.45,322.87 270.8,323.75 271.15,316.7 271.5,318.51 271.85,322.92 272.2,323.36 272.55,313.74 272.9,316.58 273.25,317.2 273.6,314.33 273.95,311.14 274.3,308.14 274.65,302.52 275,292.76 275.35,281.09 275.7,269.71 276.05,247.28 276.4,237 276.75,237 277.1,237 277.45,237 277.8,237 278.15,237 278.5,259.02 278.85,274.76 279.2,288.42 279.55,296.82 279.9,305.51 280.25,306.04 280.6,309.97 280.95,314.83 281.3,318.06 281.65,317.32 282,313.45 282.35,314.38 282.7,325.29 283.05,320.03 283.4,322.62 283.75,322.78 284.1,320.8 284.45,326.24 284.8,320.49 285.15,318.8 285.5,328.6 285.85,326.13 286.2,322.35 286.55,317.6 286.9,325.83 287.25,328.75 287.6,326.8 287.95,321.35 288.3,330.31 288.65,325.07 289,330.12 289.4,327.91 289.88,330.52 290.33,320.37 290.71,317.64 291.08,320.05 291.47,329.07 291.85,323.58 292.28,328.67 292.61,326.09 293.09,325.63 293.48,327.25 293.82,329.97 294.18,323.98 294.58,328.89 294.99,328.61 295.48,326.04 295.81,317.75 296.16,325.09 296.54,323.01 296.88,329.42 297.37,330.36 297.7,330.55 298.01,330.44 298.45,328.62 298.93,331.51 299.44,324.56 299.88,326.71 300.26,316.86 300.78,325.1 301.26,329.02 301.68,325.94 302.13,327.97 302.66,318.93 303.21,331.52 303.74,331.18 304.07,324.69 304.46,325.23 304.86,330.38 305.2,323.13 305.69,321.64 306.01,330.88 306.53,331.84 306.97,329.22 307.43,331.18 307.83,322.88 308.37,325.05 308.81,328.58 309.33,320.69 309.87,329.63 310.4,326.47 310.5,238 310.6,328.1 311.31,326.02 311.7,331.44 312.21,327.54 312.64,323.43 313.02,329.48 313.49,327.71 313.91,321.67 314.24,319.69 314.75,331.94 315.17,330.04 315.72,331.08 316.15,326.02 316.68,323.85 317.06,320.07 317.41,325.48 317.84,320.35 318.33,331.78 318.84,328.02 319.3,321.61 319.63,325.96 320.03,330.59 320.34,327.25 320.73,330.92 321.27,329.23 321.66,331.23 322.13,328.71 322.59,327.76 322.92,330.91 323.39,329 323.71,327.47 324.06,327.1 324.51,319.74 324.84,327.01 325.38,317.74 325.78,319.47 326.24,319.47 326.78,316.68 327.11,326.9 327.66,329.79 327.97,328.14 328.42,321.53 328.88,326.25" fill="none" stroke="#484848" stroke-width="0.6" stroke-linejoin="round"/>
<path d="M185.3 333.6H330M185.3 333.6v2.4M187.71 333.6v1.1M190.12 333.6v1.1M192.53 333.6v1.1M194.95 333.6v1.1M197.36 333.6v1.1M199.77 333.6v1.1M202.18 333.6v1.1M204.59 333.6v1.1M207.01 333.6v1.1M209.42 333.6v2.4M211.83 333.6v1.1M214.24 333.6v1.1M216.65 333.6v1.1M219.06 333.6v1.1M221.48 333.6v1.1M223.89 333.6v1.1M226.3 333.6v1.1M228.71 333.6v1.1M231.12 333.6v1.1M233.53 333.6v2.4M235.94 333.6v1.1M238.36 333.6v1.1M240.77 333.6v1.1M243.18 333.6v1.1M245.59 333.6v1.1M248 333.6v1.1M250.42 333.6v1.1M252.83 333.6v1.1M255.24 333.6v1.1M257.65 333.6v2.4M260.06 333.6v1.1M262.47 333.6v1.1M264.88 333.6v1.1M267.3 333.6v1.1M269.71 333.6v1.1M272.12 333.6v1.1M274.53 333.6v1.1M276.94 333.6v1.1M279.36 333.6v1.1M281.77 333.6v2.4M284.18 333.6v1.1M286.59 333.6v1.1M289 333.6v1.1M291.41 333.6v1.1M293.82 333.6v1.1M296.24 333.6v1.1M298.65 333.6v1.1M301.06 333.6v1.1M303.47 333.6v1.1M305.88 333.6v2.4M308.3 333.6v1.1M310.71 333.6v1.1M313.12 333.6v1.1M315.53 333.6v1.1M317.94 333.6v1.1M320.35 333.6v1.1M322.76 333.6v1.1M325.18 333.6v1.1M327.59 333.6v1.1M330 333.6v2.4M331.1 241.6V331.6M331.1 328.1h2.5M331.1 324.83h1.2M331.1 321.56h1.2M331.1 318.3h1.2M331.1 315.03h1.2M331.1 311.76h2.5M331.1 308.49h1.2M331.1 305.22h1.2M331.1 301.96h1.2M331.1 298.69h1.2M331.1 295.42h2.5M331.1 292.15h1.2M331.1 288.88h1.2M331.1 285.62h1.2M331.1 282.35h1.2M331.1 279.08h2.5M331.1 275.81h1.2M331.1 272.54h1.2M331.1 269.28h1.2M331.1 266.01h1.2M331.1 262.74h2.5M331.1 259.47h1.2M331.1 256.2h1.2M331.1 252.94h1.2M331.1 249.67h1.2M331.1 246.4h2.5" stroke="#1a1a1a" stroke-width="0.8" fill="none"/>
<g font-size="5" font-weight="bold" text-anchor="middle" fill="#111" stroke="#111" stroke-width="0.35"><text x="209.82" y="342.7">4</text><text x="233.93" y="342.7">3</text><text x="258.05" y="342.7">2</text><text x="282.17" y="342.7">1</text><text x="306.28" y="342.7">0</text></g>
<text x="332.7" y="341.7" font-size="5.2" font-weight="bold" fill="#111" stroke="#111" stroke-width="0.3">ppm</text>
<g font-size="5.9" letter-spacing="0.1" font-weight="bold" fill="#111" stroke="#111" stroke-width="0.42"><text x="335.7" y="330.3">0.0</text><text x="335.7" y="313.96">0.5<tspan font-size="3.8" dx="0.7" dy="-0.7">&#215;</tspan><tspan dx="0.6" dy="0.7">10</tspan><tspan font-size="3.2" dy="-2.3">8</tspan></text><text x="335.7" y="297.62">1.0<tspan font-size="3.8" dx="0.7" dy="-0.7">&#215;</tspan><tspan dx="0.6" dy="0.7">10</tspan><tspan font-size="3.2" dy="-2.3">8</tspan></text><text x="335.7" y="281.28">1.5<tspan font-size="3.8" dx="0.7" dy="-0.7">&#215;</tspan><tspan dx="0.6" dy="0.7">10</tspan><tspan font-size="3.2" dy="-2.3">8</tspan></text><text x="335.7" y="264.94">2.0<tspan font-size="3.8" dx="0.7" dy="-0.7">&#215;</tspan><tspan dx="0.6" dy="0.7">10</tspan><tspan font-size="3.2" dy="-2.3">8</tspan></text><text x="335.7" y="248.6">2.5<tspan font-size="3.8" dx="0.7" dy="-0.7">&#215;</tspan><tspan dx="0.6" dy="0.7">10</tspan><tspan font-size="3.2" dy="-2.3">8</tspan></text></g>
<text x="197.2" y="252.4" font-size="9.6" font-weight="bold" fill="#111" stroke="#111" stroke-width="0.15">H</text>
<text x="282.4" y="253.5" font-size="9.8" font-weight="bold" fill="#111" stroke="#111" stroke-width="0.12">P<tspan font-size="5.5" dx="0.3">i</tspan></text>
<text x="239.4" y="309.8" font-size="9.8" font-weight="bold" fill="#111" stroke="#111" stroke-width="0.12">P<tspan font-size="5.8" font-weight="normal" stroke-width="0.05" dx="0.4" dy="0.5">o</tspan></text>
<clipPath id="cI"><rect x="371.4" y="241.4" width="124.6" height="93.9"/><rect x="496" y="246.6" width="23.4" height="88.7"/></clipPath>
<polyline clip-path="url(#cI)" points="376,333.56 376.42,331.57 376.81,329.32 377.14,326.21 377.66,325.43 377.96,329.86 378.39,323.35 378.91,331.96 379.23,327.59 379.67,330.84 380.13,331.43 380.44,332.88 380.83,332.28 381.31,332.69 381.72,330.56 382.2,332.85 382.54,332.76 382.9,331.17 383.23,333.38 383.65,322.87 384.18,326.63 384.63,320.46 385.13,326.86 385.52,329.97 386.01,332.81 386.33,323.2 386.71,331.93 387.17,331.66 387.66,323.08 388.06,323.93 388.38,333.56 388.75,322.76 389.1,333.39 389.47,331.87 389.98,330.9 390.33,326.8 390.85,323.45 391.37,324.66 391.68,325.88 392.08,329.03 392.5,324.24 392.8,327.72 393.21,326.29 393.74,330.83 394.06,321.24 394.51,323.2 394.84,327.43 395.29,321.23 395.81,327.74 396.16,321.51 396.47,326.29 396.79,323.62 397.22,330.92 397.53,324.94 397.85,328.11 398.27,332.44 398.8,324.12 399.21,325.11 399.61,328.19 400.07,330.87 400.39,319.83 400.83,332.35 401.18,322.3 401.63,328.52 402.17,318.7 402.48,328.42 402.92,318.54 403.37,331.97 403.71,329.53 404.08,330.41 404.63,330.43 405.18,324.67 405.51,329.4 405.98,330.47 406.52,329.04 406.88,325.87 407.33,326.19 407.64,333.1 408.03,332.85 408.5,327.62 408.95,331.39 409.44,324.97 409.77,331.63 410.15,331.25 410.67,330.06 411.11,332.66 411.53,324.14 411.93,328.67 412.47,329.62 412.92,331.52 413.22,327.87 413.72,329.42 414.1,327.45 414.51,323.21 414.87,324.14 415.28,321.04 415.66,326.32 415.98,321.13 416.44,331.2 416.76,325 417.26,317.64 417.57,322.16 418.06,326.89 418.56,328.27 418.99,329.87 419.46,331.15 419.83,332.74 420.31,327.17 420.72,323 421.08,320.89 421.62,331.39 422.02,327.87 422.41,320.13 422.92,321.66 423.32,329.74 423.78,328.33 424.13,327.74 424.64,324.84 425,330.73 425.31,327.45 425.86,324.52 426.2,323.52 426.74,325.97 427.29,330.9 427.74,324.46 428.04,330.32 428.35,331.8 428.71,331.34 429.1,327.24 429.56,328.5 430.1,324.17 430.49,326.78 430.82,328.84 431.26,332.29 431.6,323.39 431.92,329.9 432.36,327.51 432.83,330.62 433.15,332.11 433.56,330.21 434.04,324.86 434.53,323.85 434.92,323.14 435.45,331.13 435.79,330.93 436.27,327.96 436.76,321.73 437.28,321.26 437.7,329.03 438.03,327.31 438.34,325.63 438.77,320.16 439.12,324.1 439.57,320.95 439.89,326.13 440.39,324.96 440.75,322.52 441.05,324.5 441.39,325.65 441.81,321.93 442.25,326.02 442.64,330.9 442.99,322.35 443.41,329.92 443.94,332.21 444.38,329.8 444.91,329.29 445.22,331.31 445.77,331.29 446.29,323.6 446.73,322.75 447.16,323.16 447.59,328.86 448.12,329.76 448.44,324.21 448.9,327.47 449.33,326.07 449.71,325.98 450.19,329.3 450.67,328.92 450.99,328.27 451.47,324.71 451.88,327.5 452.2,323.29 452.55,326.98 452.9,325.91 453.25,325.65 453.6,324.71 453.95,321.99 454.3,329.62 454.65,322.95 455,330.1 455.35,323.02 455.7,326.45 456.05,321.41 456.4,320.88 456.75,324.53 457.1,322.11 457.45,321.52 457.8,318.65 458.15,316.65 458.5,317.84 458.85,316.26 459.2,315.48 459.55,318.1 459.9,311.73 460.25,309.66 460.6,309.21 460.95,303.26 461.3,301.07 461.65,292.95 462,284.06 462.35,271.05 462.7,255.64 463.05,237.4 463.4,237.4 463.75,237.4 464.1,237.4 464.45,237.4 464.8,237.4 465.15,237.4 465.5,241.89 465.85,262.49 466.2,277.71 466.55,287.77 466.9,297.15 467.25,298.72 467.6,304.57 467.95,309.64 468.3,311.94 468.65,316.45 469,313.95 469.35,319.36 469.7,318.32 470.05,308.22 470.4,319.54 470.75,310.14 471.1,321.2 471.45,314.17 471.8,321.85 472.15,321.3 472.5,314.88 472.85,328.95 473.2,329.74 473.55,328.59 473.9,325.51 474.25,326.19 474.6,328.67 474.95,319.84 475.3,323.85 475.65,327.76 476,325.7 476.59,324.73 476.91,331.87 477.27,325.63 477.78,330.79 478.23,332.59 478.59,319.19 478.9,327.59 479.27,324.71 479.65,326.99 480.15,327.39 480.69,324.01 481.19,331.3 481.71,324.19 482.25,324.79 482.76,330.22 483.29,321.84 483.84,321.6 484.16,333.08 484.54,331.74 484.9,325.29 485.35,324.63 485.78,323.22 486.16,324.34 486.67,332.15 487.07,330.84 487.42,332.43 487.79,325.13 488.21,333.12 488.66,325.73 489.1,330.65 489.51,330.49 489.86,326.54 490.26,333.14 490.64,331.57 490.98,326.08 491.42,322.76 491.77,329.02 492.24,330.61 492.71,329.4 493.04,330.31 493.5,319.97 493.88,322.33 494.3,324.27 494.75,327.35 495.24,328.92 495.76,327.76 496.24,323.46 496.6,330.37 497.03,327.28 497.9,328.35 498,243.6 498.1,330 499.09,325.38 499.47,327.13 499.98,325.35 500.41,329.93 500.73,331.63 501.21,330.22 501.59,330.11 502.02,332.25 502.34,332.52 502.64,331.11 503.17,326.38 503.48,322.19 503.82,329.05 504.16,330.17 504.48,333.41 504.99,329.76 505.54,321.75 506,332.23 506.4,332.99 506.92,328.76 507.35,322.71 507.68,326.51 508.15,324.84 508.54,327.7 508.91,332.95 509.29,332.6 509.69,326.18 510.03,328.01 510.49,322.86 511,323.98 511.45,317.31 511.75,325.56 512.22,332.93 512.52,327.07 512.94,333.07 513.46,330.63 513.93,320.76 514.46,329.38 514.94,328.24 515.31,325.42 515.65,325.63 516.06,331.81" fill="none" stroke="#484848" stroke-width="0.6" stroke-linejoin="round"/>
<path d="M373.4 335.3H517.4M373.4 335.3v2.4M375.8 335.3v1.1M378.2 335.3v1.1M380.6 335.3v1.1M383 335.3v1.1M385.4 335.3v1.1M387.8 335.3v1.1M390.2 335.3v1.1M392.6 335.3v1.1M395 335.3v1.1M397.4 335.3v2.4M399.8 335.3v1.1M402.2 335.3v1.1M404.6 335.3v1.1M407 335.3v1.1M409.4 335.3v1.1M411.8 335.3v1.1M414.2 335.3v1.1M416.6 335.3v1.1M419 335.3v1.1M421.4 335.3v2.4M423.8 335.3v1.1M426.2 335.3v1.1M428.6 335.3v1.1M431 335.3v1.1M433.4 335.3v1.1M435.8 335.3v1.1M438.2 335.3v1.1M440.6 335.3v1.1M443 335.3v1.1M445.4 335.3v2.4M447.8 335.3v1.1M450.2 335.3v1.1M452.6 335.3v1.1M455 335.3v1.1M457.4 335.3v1.1M459.8 335.3v1.1M462.2 335.3v1.1M464.6 335.3v1.1M467 335.3v1.1M469.4 335.3v2.4M471.8 335.3v1.1M474.2 335.3v1.1M476.6 335.3v1.1M479 335.3v1.1M481.4 335.3v1.1M483.8 335.3v1.1M486.2 335.3v1.1M488.6 335.3v1.1M491 335.3v1.1M493.4 335.3v2.4M495.8 335.3v1.1M498.2 335.3v1.1M500.6 335.3v1.1M503 335.3v1.1M505.4 335.3v1.1M507.8 335.3v1.1M510.2 335.3v1.1M512.6 335.3v1.1M515 335.3v1.1M517.4 335.3v2.4M518.9 243V333.5M518.9 330h2.5M518.9 326.7h1.2M518.9 323.39h1.2M518.9 320.09h1.2M518.9 316.78h1.2M518.9 313.48h2.5M518.9 310.18h1.2M518.9 306.87h1.2M518.9 303.57h1.2M518.9 300.26h1.2M518.9 296.96h2.5M518.9 293.66h1.2M518.9 290.35h1.2M518.9 287.05h1.2M518.9 283.74h1.2M518.9 280.44h2.5M518.9 277.14h1.2M518.9 273.83h1.2M518.9 270.53h1.2M518.9 267.22h1.2M518.9 263.92h2.5M518.9 260.62h1.2M518.9 257.31h1.2M518.9 254.01h1.2M518.9 250.7h1.2M518.9 247.4h2.5" stroke="#1a1a1a" stroke-width="0.8" fill="none"/>
<g font-size="5" font-weight="bold" text-anchor="middle" fill="#111" stroke="#111" stroke-width="0.35"><text x="397.8" y="344.4">4</text><text x="421.8" y="344.4">3</text><text x="445.8" y="344.4">2</text><text x="469.8" y="344.4">1</text><text x="493.8" y="344.4">0</text></g>
<text x="520.5" y="343.4" font-size="5.2" font-weight="bold" fill="#111" stroke="#111" stroke-width="0.3">ppm</text>
<g font-size="5.9" letter-spacing="0.1" font-weight="bold" fill="#111" stroke="#111" stroke-width="0.42"><text x="523.5" y="332.2">0.0</text><text x="523.5" y="315.68">0.5<tspan font-size="3.8" dx="0.7" dy="-0.7">&#215;</tspan><tspan dx="0.6" dy="0.7">10</tspan><tspan font-size="3.2" dy="-2.3">8</tspan></text><text x="523.5" y="299.16">1.0<tspan font-size="3.8" dx="0.7" dy="-0.7">&#215;</tspan><tspan dx="0.6" dy="0.7">10</tspan><tspan font-size="3.2" dy="-2.3">8</tspan></text><text x="523.5" y="282.64">1.5<tspan font-size="3.8" dx="0.7" dy="-0.7">&#215;</tspan><tspan dx="0.6" dy="0.7">10</tspan><tspan font-size="3.2" dy="-2.3">8</tspan></text><text x="523.5" y="266.12">2.0<tspan font-size="3.8" dx="0.7" dy="-0.7">&#215;</tspan><tspan dx="0.6" dy="0.7">10</tspan><tspan font-size="3.2" dy="-2.3">8</tspan></text><text x="523.5" y="249.6">2.5<tspan font-size="3.8" dx="0.7" dy="-0.7">&#215;</tspan><tspan dx="0.6" dy="0.7">10</tspan><tspan font-size="3.2" dy="-2.3">8</tspan></text></g>
<text x="389.4" y="256.6" font-size="9.6" font-weight="bold" fill="#111" stroke="#111" stroke-width="0.15">I</text>
<text x="470.4" y="255.5" font-size="9.8" font-weight="bold" fill="#111" stroke="#111" stroke-width="0.12">P<tspan font-size="5.5" dx="0.3">i</tspan></text>
<text x="426" y="311.4" font-size="9.8" font-weight="bold" fill="#111" stroke="#111" stroke-width="0.12">P<tspan font-size="5.8" font-weight="normal" stroke-width="0.05" dx="0.4" dy="0.5">o</tspan></text>
</svg>
</body></html>
